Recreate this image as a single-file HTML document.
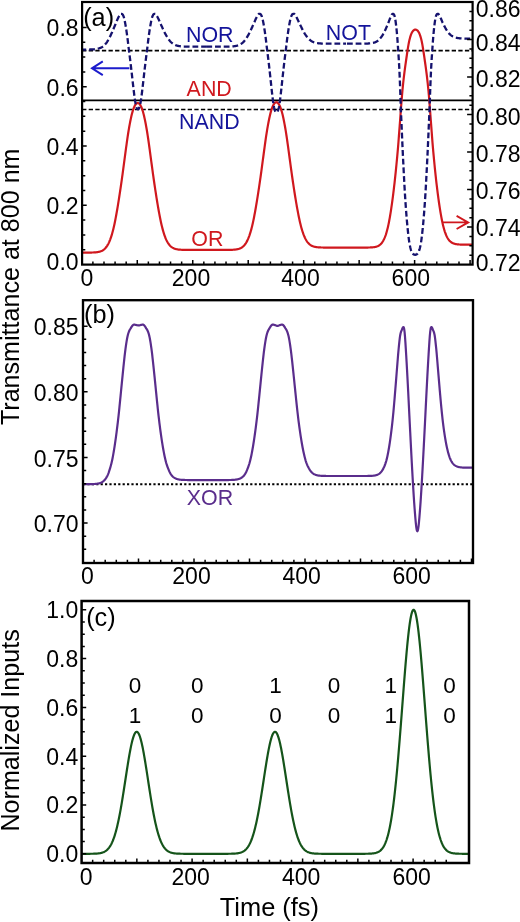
<!DOCTYPE html>
<html lang="en"><head><meta charset="utf-8"><title>Logic gate transmittance</title>
<style>
html,body{margin:0;padding:0;background:#fff;}
body{width:520px;height:922px;overflow:hidden;}
svg{display:block;font-family:"Liberation Sans",Arial,Helvetica,sans-serif;}
</style></head><body>
<svg width="520" height="922" viewBox="0 0 520 922">
<rect width="520" height="922" fill="#fff"/>
<path d="M82.1 50.6 H472.6" stroke="#000" stroke-width="1.7" stroke-dasharray="4.3 2.3" fill="none"/>
<path d="M82.1 109.5 H472.6" stroke="#000" stroke-width="1.7" stroke-dasharray="4.3 2.3" fill="none"/>
<path d="M82.1 100.4 H472.6" stroke="#000" stroke-width="1.8" fill="none"/>
<path d="M82.1 252.6 L82.5 252.6 L82.9 252.6 L83.3 252.6 L83.7 252.6 L84.1 252.6 L84.5 252.6 L84.9 252.6 L85.3 252.59 L85.7 252.59 L86.1 252.59 L86.5 252.59 L86.9 252.59 L87.3 252.59 L87.7 252.58 L88.1 252.58 L88.5 252.58 L88.9 252.58 L89.3 252.57 L89.7 252.57 L90.1 252.56 L90.5 252.56 L90.9 252.55 L91.3 252.54 L91.7 252.53 L92.1 252.52 L92.5 252.51 L92.9 252.5 L93.3 252.48 L93.7 252.46 L94.1 252.44 L94.5 252.42 L94.9 252.39 L95.3 252.36 L95.7 252.33 L96.1 252.29 L96.5 252.25 L96.9 252.2 L97.3 252.15 L97.7 252.09 L98.1 252.02 L98.5 251.94 L98.9 251.86 L99.3 251.76 L99.7 251.66 L100.1 251.54 L100.5 251.41 L100.9 251.26 L101.3 251.1 L101.7 250.92 L102.1 250.72 L102.5 250.5 L102.9 250.26 L103.3 250 L103.7 249.71 L104.1 249.39 L104.5 249.04 L104.9 248.66 L105.3 248.24 L105.7 247.79 L106.1 247.3 L106.5 246.77 L106.9 246.2 L107.3 245.59 L107.7 244.92 L108.1 244.21 L108.5 243.44 L108.9 242.62 L109.3 241.74 L109.7 240.79 L110.1 239.79 L110.5 238.71 L110.9 237.57 L111.3 236.36 L111.7 235.08 L112.1 233.72 L112.5 232.29 L112.9 230.78 L113.3 229.19 L113.7 227.52 L114.1 225.77 L114.5 223.93 L114.9 222.01 L115.3 220 L115.7 217.91 L116.1 215.75 L116.5 213.54 L116.9 211.27 L117.3 208.94 L117.7 206.56 L118.1 204.13 L118.5 201.64 L118.9 199.1 L119.3 196.52 L119.7 193.9 L120.1 191.24 L120.5 188.55 L120.9 185.83 L121.3 183.08 L121.7 180.29 L122.1 177.45 L122.5 174.56 L122.9 171.62 L123.3 168.65 L123.7 165.65 L124.1 162.65 L124.5 159.64 L124.9 156.63 L125.3 153.62 L125.7 150.64 L126.1 147.69 L126.5 144.78 L126.9 141.9 L127.3 139.07 L127.7 136.34 L128.1 133.72 L128.5 131.22 L128.9 128.84 L129.3 126.56 L129.7 124.38 L130.1 122.29 L130.5 120.28 L130.9 118.37 L131.3 116.56 L131.7 114.86 L132.1 113.29 L132.5 111.84 L132.9 110.52 L133.3 109.32 L133.7 108.22 L134.1 107.24 L134.5 106.36 L134.9 105.58 L135.3 104.9 L135.7 104.33 L136.1 103.86 L136.5 103.49 L136.9 103.22 L137.3 103.05 L137.7 102.99 L138.1 103.03 L138.5 103.17 L138.9 103.42 L139.3 103.76 L139.7 104.21 L140.1 104.76 L140.5 105.41 L140.9 106.17 L141.3 107.02 L141.7 107.98 L142.1 109.05 L142.5 110.22 L142.9 111.51 L143.3 112.92 L143.7 114.46 L144.1 116.12 L144.5 117.9 L144.9 119.78 L145.3 121.76 L145.7 123.82 L146.1 125.96 L146.5 128.2 L146.9 130.54 L147.3 132.99 L147.7 135.55 L148.1 138.24 L148.5 141.02 L148.9 143.87 L149.3 146.75 L149.7 149.66 L150.1 152.6 L150.5 155.57 L150.9 158.56 L151.3 161.53 L151.7 164.5 L152.1 167.47 L152.5 170.41 L152.9 173.32 L153.3 176.19 L153.7 179.01 L154.1 181.77 L154.5 184.48 L154.9 187.16 L155.3 189.81 L155.7 192.43 L156.1 195.01 L156.5 197.55 L156.9 200.04 L157.3 202.49 L157.7 204.88 L158.1 207.21 L158.5 209.5 L158.9 211.72 L159.3 213.88 L159.7 215.98 L160.1 218.03 L160.5 220 L160.9 221.9 L161.3 223.71 L161.7 225.44 L162.1 227.08 L162.5 228.64 L162.9 230.12 L163.3 231.53 L163.7 232.86 L164.1 234.12 L164.5 235.31 L164.9 236.43 L165.3 237.48 L165.7 238.46 L166.1 239.38 L166.5 240.24 L166.9 241.05 L167.3 241.79 L167.7 242.49 L168.1 243.14 L168.5 243.73 L168.9 244.29 L169.3 244.8 L169.7 245.27 L170.1 245.71 L170.5 246.1 L170.9 246.47 L171.3 246.81 L171.7 247.11 L172.1 247.4 L172.5 247.65 L172.9 247.88 L173.3 248.1 L173.7 248.29 L174.1 248.46 L174.5 248.62 L174.9 248.76 L175.3 248.89 L175.7 249 L176.1 249.11 L176.5 249.2 L176.9 249.28 L177.3 249.36 L177.7 249.42 L178.1 249.48 L178.5 249.54 L178.9 249.58 L179.3 249.62 L179.7 249.66 L180.1 249.69 L180.5 249.72 L180.9 249.75 L181.3 249.77 L181.7 249.79 L182.1 249.81 L182.5 249.82 L182.9 249.84 L183.3 249.85 L183.7 249.86 L184.1 249.87 L184.5 249.88 L184.9 249.88 L185.3 249.89 L185.7 249.89 L186.1 249.9 L186.5 249.9 L186.9 249.91 L187.3 249.91 L187.7 249.91 L188.1 249.91 L188.5 249.91 L188.9 249.92 L189.3 249.92 L189.7 249.92 L190.1 249.92 L190.5 249.92 L190.9 249.92 L191.3 249.92 L191.7 249.92 L192.1 249.92 L192.5 249.92 L192.9 249.92 L193.3 249.92 L193.7 249.92 L194.1 249.92 L194.5 249.92 L194.9 249.92 L195.3 249.92 L195.7 249.92 L196.1 249.93 L196.5 249.93 L196.9 249.93 L197.3 249.93 L197.7 249.93 L198.1 249.93 L198.5 249.93 L198.9 249.93 L199.3 249.93 L199.7 249.93 L200.1 249.93 L200.5 249.93 L200.9 249.93 L201.3 249.93 L201.7 249.93 L202.1 249.93 L202.5 249.93 L202.9 249.93 L203.3 249.93 L203.7 249.93 L204.1 249.93 L204.5 249.93 L204.9 249.93 L205.3 249.93 L205.7 249.93 L206.1 249.93 L206.5 249.93 L206.9 249.93 L207.3 249.93 L207.7 249.93 L208.1 249.93 L208.5 249.93 L208.9 249.93 L209.3 249.93 L209.7 249.93 L210.1 249.93 L210.5 249.93 L210.9 249.93 L211.3 249.93 L211.7 249.93 L212.1 249.93 L212.5 249.93 L212.9 249.93 L213.3 249.93 L213.7 249.93 L214.1 249.93 L214.5 249.93 L214.9 249.93 L215.3 249.93 L215.7 249.93 L216.1 249.93 L216.5 249.93 L216.9 249.93 L217.3 249.93 L217.7 249.93 L218.1 249.92 L218.5 249.92 L218.9 249.92 L219.3 249.92 L219.7 249.92 L220.1 249.92 L220.5 249.92 L220.9 249.92 L221.3 249.92 L221.7 249.92 L222.1 249.92 L222.5 249.92 L222.9 249.92 L223.3 249.92 L223.7 249.92 L224.1 249.92 L224.5 249.92 L224.9 249.92 L225.3 249.92 L225.7 249.91 L226.1 249.91 L226.5 249.91 L226.9 249.91 L227.3 249.9 L227.7 249.9 L228.1 249.9 L228.5 249.89 L228.9 249.89 L229.3 249.88 L229.7 249.87 L230.1 249.86 L230.5 249.85 L230.9 249.84 L231.3 249.83 L231.7 249.82 L232.1 249.8 L232.5 249.78 L232.9 249.76 L233.3 249.74 L233.7 249.71 L234.1 249.68 L234.5 249.64 L234.9 249.6 L235.3 249.56 L235.7 249.51 L236.1 249.45 L236.5 249.39 L236.9 249.32 L237.3 249.24 L237.7 249.15 L238.1 249.06 L238.5 248.95 L238.9 248.83 L239.3 248.69 L239.7 248.54 L240.1 248.37 L240.5 248.19 L240.9 247.99 L241.3 247.77 L241.7 247.52 L242.1 247.25 L242.5 246.96 L242.9 246.63 L243.3 246.28 L243.7 245.9 L244.1 245.48 L244.5 245.03 L244.9 244.54 L245.3 244 L245.7 243.43 L246.1 242.8 L246.5 242.13 L246.9 241.4 L247.3 240.63 L247.7 239.79 L248.1 238.9 L248.5 237.94 L248.9 236.92 L249.3 235.84 L249.7 234.68 L250.1 233.45 L250.5 232.16 L250.9 230.78 L251.3 229.34 L251.7 227.81 L252.1 226.21 L252.5 224.52 L252.9 222.74 L253.3 220.88 L253.7 218.93 L254.1 216.92 L254.5 214.83 L254.9 212.7 L255.3 210.5 L255.7 208.24 L256.1 205.93 L256.5 203.55 L256.9 201.13 L257.3 198.65 L257.7 196.12 L258.1 193.56 L258.5 190.95 L258.9 188.3 L259.3 185.63 L259.7 182.92 L260.1 180.17 L260.5 177.37 L260.9 174.51 L261.3 171.61 L261.7 168.66 L262.1 165.69 L262.5 162.71 L262.9 159.72 L263.3 156.73 L263.7 153.73 L264.1 150.76 L264.5 147.81 L264.9 144.91 L265.3 142.02 L265.7 139.19 L266.1 136.44 L266.5 133.81 L266.9 131.3 L267.3 128.9 L267.7 126.6 L268.1 124.39 L268.5 122.28 L268.9 120.24 L269.3 118.29 L269.7 116.45 L270.1 114.72 L270.5 113.12 L270.9 111.64 L271.3 110.28 L271.7 109.04 L272.1 107.91 L272.5 106.89 L272.9 105.97 L273.3 105.15 L273.7 104.43 L274.1 103.81 L274.5 103.29 L274.9 102.87 L275.3 102.56 L275.7 102.34 L276.1 102.23 L276.5 102.22 L276.9 102.31 L277.3 102.5 L277.7 102.8 L278.1 103.2 L278.5 103.69 L278.9 104.29 L279.3 104.99 L279.7 105.79 L280.1 106.68 L280.5 107.69 L280.9 108.79 L281.3 110 L281.7 111.33 L282.1 112.78 L282.5 114.35 L282.9 116.05 L283.3 117.86 L283.7 119.78 L284.1 121.78 L284.5 123.87 L284.9 126.05 L285.3 128.31 L285.7 130.67 L286.1 133.14 L286.5 135.73 L286.9 138.43 L287.3 141.22 L287.7 144.08 L288.1 146.95 L288.5 149.86 L288.9 152.81 L289.3 155.77 L289.7 158.74 L290.1 161.7 L290.5 164.65 L290.9 167.59 L291.3 170.51 L291.7 173.39 L292.1 176.23 L292.5 179.01 L292.9 181.74 L293.3 184.42 L293.7 187.05 L294.1 189.66 L294.5 192.23 L294.9 194.76 L295.3 197.25 L295.7 199.69 L296.1 202.08 L296.5 204.41 L296.9 206.69 L297.3 208.91 L297.7 211.07 L298.1 213.16 L298.5 215.2 L298.9 217.17 L299.3 219.08 L299.7 220.92 L300.1 222.67 L300.5 224.34 L300.9 225.93 L301.3 227.43 L301.7 228.86 L302.1 230.2 L302.5 231.48 L302.9 232.68 L303.3 233.82 L303.7 234.89 L304.1 235.89 L304.5 236.83 L304.9 237.7 L305.3 238.52 L305.7 239.28 L306.1 239.99 L306.5 240.65 L306.9 241.26 L307.3 241.83 L307.7 242.35 L308.1 242.83 L308.5 243.27 L308.9 243.68 L309.3 244.05 L309.7 244.39 L310.1 244.71 L310.5 244.99 L310.9 245.25 L311.3 245.49 L311.7 245.7 L312.1 245.9 L312.5 246.08 L312.9 246.24 L313.3 246.38 L313.7 246.51 L314.1 246.63 L314.5 246.73 L314.9 246.83 L315.3 246.91 L315.7 246.99 L316.1 247.06 L316.5 247.12 L316.9 247.17 L317.3 247.22 L317.7 247.26 L318.1 247.3 L318.5 247.34 L318.9 247.37 L319.3 247.39 L319.7 247.42 L320.1 247.44 L320.5 247.45 L320.9 247.47 L321.3 247.48 L321.7 247.5 L322.1 247.51 L322.5 247.52 L322.9 247.52 L323.3 247.53 L323.7 247.54 L324.1 247.54 L324.5 247.55 L324.9 247.55 L325.3 247.56 L325.7 247.56 L326.1 247.56 L326.5 247.56 L326.9 247.57 L327.3 247.57 L327.7 247.57 L328.1 247.57 L328.5 247.57 L328.9 247.57 L329.3 247.57 L329.7 247.57 L330.1 247.57 L330.5 247.57 L330.9 247.57 L331.3 247.57 L331.7 247.58 L332.1 247.58 L332.5 247.58 L332.9 247.58 L333.3 247.58 L333.7 247.58 L334.1 247.58 L334.5 247.58 L334.9 247.58 L335.3 247.58 L335.7 247.58 L336.1 247.58 L336.5 247.58 L336.9 247.58 L337.3 247.58 L337.7 247.58 L338.1 247.58 L338.5 247.58 L338.9 247.58 L339.3 247.58 L339.7 247.58 L340.1 247.58 L340.5 247.58 L340.9 247.58 L341.3 247.58 L341.7 247.58 L342.1 247.58 L342.5 247.58 L342.9 247.58 L343.3 247.58 L343.7 247.58 L344.1 247.58 L344.5 247.58 L344.9 247.58 L345.3 247.58 L345.7 247.58 L346.1 247.58 L346.5 247.58 L346.9 247.58 L347.3 247.58 L347.7 247.58 L348.1 247.58 L348.5 247.58 L348.9 247.58 L349.3 247.58 L349.7 247.58 L350.1 247.58 L350.5 247.58 L350.9 247.58 L351.3 247.58 L351.7 247.58 L352.1 247.58 L352.5 247.58 L352.9 247.58 L353.3 247.58 L353.7 247.58 L354.1 247.58 L354.5 247.58 L354.9 247.58 L355.3 247.58 L355.7 247.58 L356.1 247.58 L356.5 247.58 L356.9 247.58 L357.3 247.58 L357.7 247.58 L358.1 247.58 L358.5 247.58 L358.9 247.58 L359.3 247.58 L359.7 247.58 L360.1 247.58 L360.5 247.57 L360.9 247.57 L361.3 247.57 L361.7 247.57 L362.1 247.57 L362.5 247.57 L362.9 247.57 L363.3 247.57 L363.7 247.57 L364.1 247.57 L364.5 247.57 L364.9 247.56 L365.3 247.56 L365.7 247.56 L366.1 247.55 L366.5 247.55 L366.9 247.55 L367.3 247.54 L367.7 247.53 L368.1 247.53 L368.5 247.52 L368.9 247.51 L369.3 247.5 L369.7 247.48 L370.1 247.47 L370.5 247.45 L370.9 247.43 L371.3 247.41 L371.7 247.38 L372.1 247.35 L372.5 247.32 L372.9 247.28 L373.3 247.24 L373.7 247.19 L374.1 247.13 L374.5 247.07 L374.9 246.99 L375.3 246.91 L375.7 246.82 L376.1 246.71 L376.5 246.59 L376.9 246.46 L377.3 246.31 L377.7 246.14 L378.1 245.96 L378.5 245.75 L378.9 245.52 L379.3 245.26 L379.7 244.97 L380.1 244.65 L380.5 244.3 L380.9 243.91 L381.3 243.48 L381.7 243 L382.1 242.48 L382.5 241.91 L382.9 241.28 L383.3 240.59 L383.7 239.85 L384.1 239.03 L384.5 238.14 L384.9 237.18 L385.3 236.14 L385.7 235.01 L386.1 233.79 L386.5 232.48 L386.9 231.07 L387.3 229.56 L387.7 227.95 L388.1 226.22 L388.5 224.38 L388.9 222.41 L389.3 220.31 L389.7 218.09 L390.1 215.76 L390.5 213.33 L390.9 210.8 L391.3 208.15 L391.7 205.41 L392.1 202.55 L392.5 199.59 L392.9 196.52 L393.3 193.35 L393.7 190.09 L394.1 186.73 L394.5 183.28 L394.9 179.7 L395.3 175.99 L395.7 172.12 L396.1 168.12 L396.5 164 L396.9 159.78 L397.3 155.53 L397.7 151.17 L398.1 146.55 L398.5 141.51 L398.9 136.2 L399.3 130.87 L399.7 125.61 L400.1 120.33 L400.5 114.95 L400.9 109.46 L401.3 104.14 L401.7 99.13 L402.1 94.38 L402.5 89.97 L402.9 85.85 L403.3 82.01 L403.7 78.42 L404.1 75.04 L404.5 71.86 L404.9 68.83 L405.3 65.91 L405.7 63.09 L406.1 60.28 L406.5 57.5 L406.9 54.75 L407.3 52.03 L407.7 49.41 L408.1 46.94 L408.5 44.61 L408.9 42.5 L409.3 40.62 L409.7 38.94 L410.1 37.44 L410.5 36.11 L410.9 34.93 L411.3 33.91 L411.7 33.03 L412.1 32.28 L412.5 31.63 L412.9 31.09 L413.3 30.65 L413.7 30.29 L414.1 30.01 L414.5 29.8 L414.9 29.67 L415.3 29.61 L415.7 29.63 L416.1 29.71 L416.5 29.87 L416.9 30.11 L417.3 30.41 L417.7 30.8 L418.1 31.28 L418.5 31.86 L418.9 32.54 L419.3 33.34 L419.7 34.26 L420.1 35.34 L420.5 36.58 L420.9 37.96 L421.3 39.52 L421.7 41.27 L422.1 43.22 L422.5 45.41 L422.9 47.79 L423.3 50.3 L423.7 52.97 L424.1 55.69 L424.5 58.44 L424.9 61.22 L425.3 64.02 L425.7 66.85 L426.1 69.8 L426.5 72.86 L426.9 76.09 L427.3 79.51 L427.7 83.15 L428.1 87.05 L428.5 91.22 L428.9 95.7 L429.3 100.5 L429.7 105.54 L430.1 110.9 L430.5 116.34 L430.9 121.62 L431.3 126.84 L431.7 132.04 L432.1 137.33 L432.5 142.55 L432.9 147.44 L433.3 151.94 L433.7 156.2 L434.1 160.37 L434.5 164.51 L434.9 168.54 L435.3 172.45 L435.7 176.23 L436.1 179.84 L436.5 183.32 L436.9 186.68 L437.3 189.94 L437.7 193.1 L438.1 196.17 L438.5 199.13 L438.9 201.99 L439.3 204.74 L439.7 207.38 L440.1 209.92 L440.5 212.34 L440.9 214.66 L441.3 216.88 L441.7 219 L442.1 221 L442.5 222.88 L442.9 224.64 L443.3 226.28 L443.7 227.82 L444.1 229.25 L444.5 230.58 L444.9 231.82 L445.3 232.96 L445.7 234.03 L446.1 235.01 L446.5 235.91 L446.9 236.75 L447.3 237.51 L447.7 238.21 L448.1 238.85 L448.5 239.44 L448.9 239.97 L449.3 240.45 L449.7 240.89 L450.1 241.29 L450.5 241.65 L450.9 241.98 L451.3 242.27 L451.7 242.54 L452.1 242.78 L452.5 242.99 L452.9 243.18 L453.3 243.35 L453.7 243.51 L454.1 243.64 L454.5 243.77 L454.9 243.87 L455.3 243.97 L455.7 244.05 L456.1 244.13 L456.5 244.2 L456.9 244.25 L457.3 244.31 L457.7 244.35 L458.1 244.39 L458.5 244.43 L458.9 244.46 L459.3 244.48 L459.7 244.51 L460.1 244.53 L460.5 244.54 L460.9 244.56 L461.3 244.57 L461.7 244.58 L462.1 244.59 L462.5 244.6 L462.9 244.61 L463.3 244.62 L463.7 244.62 L464.1 244.63 L464.5 244.63 L464.9 244.63 L465.3 244.64 L465.7 244.64 L466.1 244.64 L466.5 244.64 L466.9 244.65 L467.3 244.65 L467.7 244.65 L468.1 244.65 L468.5 244.65 L468.9 244.65 L469.3 244.65 L469.7 244.65 L470.1 244.65 L470.5 244.65 L470.9 244.65 L471.3 244.65 L471.7 244.65 L472.1 244.65 L472.5 244.65 L472.6 244.65" stroke="#d0181e" stroke-width="2.2" fill="none" stroke-linejoin="round"/>
<path d="M82.1 49.6 L82.35 49.6 L82.6 49.59 L82.85 49.59 L83.1 49.59 L83.35 49.59 L83.6 49.59 L83.85 49.59 L84.1 49.59 L84.35 49.59 L84.6 49.59 L84.85 49.59 L85.1 49.59 L85.35 49.58 L85.6 49.58 L85.85 49.58 L86.1 49.58 L86.35 49.58 L86.6 49.58 L86.85 49.57 L87.1 49.57 L87.35 49.57 L87.6 49.56 L87.85 49.56 L88.1 49.56 L88.35 49.55 L88.6 49.55 L88.85 49.55 L89.1 49.54 L89.35 49.53 L89.6 49.53 L89.85 49.52 L90.1 49.52 L90.35 49.51 L90.6 49.5 L90.85 49.49 L91.1 49.48 L91.35 49.47 L91.6 49.46 L91.85 49.45 L92.1 49.44 L92.35 49.42 L92.6 49.41 L92.85 49.39 L93.1 49.38 L93.35 49.36 L93.6 49.34 L93.85 49.32 L94.1 49.3 L94.35 49.27 L94.6 49.25 L94.85 49.22 L95.1 49.19 L95.35 49.16 L95.6 49.12 L95.85 49.09 L96.1 49.05 L96.35 49.01 L96.6 48.96 L96.85 48.92 L97.1 48.87 L97.35 48.82 L97.6 48.76 L97.85 48.7 L98.1 48.64 L98.35 48.57 L98.6 48.5 L98.85 48.43 L99.1 48.35 L99.35 48.27 L99.6 48.18 L99.85 48.09 L100.1 48 L100.35 47.9 L100.6 47.8 L100.85 47.69 L101.1 47.59 L101.35 47.47 L101.6 47.35 L101.85 47.22 L102.1 47.09 L102.35 46.95 L102.6 46.79 L102.85 46.62 L103.1 46.44 L103.35 46.24 L103.6 46.03 L103.85 45.8 L104.1 45.55 L104.35 45.29 L104.6 45.02 L104.85 44.74 L105.1 44.44 L105.35 44.15 L105.6 43.85 L105.85 43.55 L106.1 43.24 L106.35 42.92 L106.6 42.59 L106.85 42.24 L107.1 41.87 L107.35 41.48 L107.6 41.07 L107.85 40.64 L108.1 40.19 L108.35 39.74 L108.6 39.27 L108.85 38.8 L109.1 38.32 L109.35 37.85 L109.6 37.36 L109.85 36.88 L110.1 36.39 L110.35 35.89 L110.6 35.39 L110.85 34.88 L111.1 34.36 L111.35 33.83 L111.6 33.29 L111.85 32.74 L112.1 32.18 L112.35 31.61 L112.6 31.03 L112.85 30.44 L113.1 29.84 L113.35 29.24 L113.6 28.63 L113.85 28.03 L114.1 27.43 L114.35 26.84 L114.6 26.26 L114.85 25.68 L115.1 25.11 L115.35 24.54 L115.6 23.98 L115.85 23.41 L116.1 22.83 L116.35 22.22 L116.6 21.58 L116.85 20.93 L117.1 20.29 L117.35 19.68 L117.6 19.1 L117.85 18.55 L118.1 18.03 L118.35 17.53 L118.6 17.04 L118.85 16.56 L119.1 16.11 L119.35 15.7 L119.6 15.31 L119.85 14.9 L120.1 14.5 L120.35 14.16 L120.6 13.91 L120.85 13.8 L121.1 13.81 L121.35 13.84 L121.6 13.9 L121.85 13.97 L122.1 14.06 L122.35 14.19 L122.6 14.46 L122.85 14.85 L123.1 15.33 L123.35 15.87 L123.6 16.47 L123.85 17.24 L124.1 18.15 L124.35 19.16 L124.6 20.22 L124.85 21.42 L125.1 22.72 L125.35 24.09 L125.6 25.5 L125.85 26.98 L126.1 28.54 L126.35 30.15 L126.6 31.82 L126.85 33.56 L127.1 35.36 L127.35 37.22 L127.6 39.16 L127.85 41.19 L128.1 43.27 L128.35 45.38 L128.6 47.54 L128.85 49.69 L129.1 51.73 L129.35 53.62 L129.6 55.47 L129.85 57.38 L130.1 59.38 L130.35 61.43 L130.6 63.52 L130.85 65.63 L131.1 67.75 L131.35 69.88 L131.6 72.04 L131.85 74.23 L132.1 76.46 L132.35 78.69 L132.6 80.92 L132.85 83.13 L133.1 85.32 L133.35 87.49 L133.6 89.62 L133.85 91.68 L134.1 93.65 L134.35 95.54 L134.6 97.38 L134.85 99.17 L135.1 100.84 L135.35 102.38 L135.6 103.75 L135.85 104.96 L136.1 106 L136.35 106.88 L136.6 107.6 L136.85 108.18 L137.1 108.63 L137.35 108.97 L137.6 109.19 L137.85 109.3 L138.1 109.29 L138.35 109.17 L138.6 108.94 L138.85 108.59 L139.1 108.12 L139.35 107.53 L139.6 106.79 L139.85 105.9 L140.1 104.85 L140.35 103.62 L140.6 102.23 L140.85 100.68 L141.1 99 L141.35 97.21 L141.6 95.37 L141.85 93.48 L142.1 91.5 L142.35 89.44 L142.6 87.32 L142.85 85.15 L143.1 82.97 L143.35 80.76 L143.6 78.54 L143.85 76.31 L144.1 74.1 L144.35 71.92 L144.6 69.77 L144.85 67.65 L145.1 65.54 L145.35 63.44 L145.6 61.37 L145.85 59.33 L146.1 57.34 L146.35 55.44 L146.6 53.61 L146.85 51.72 L147.1 49.69 L147.35 47.56 L147.6 45.41 L147.85 43.32 L148.1 41.26 L148.35 39.24 L148.6 37.31 L148.85 35.46 L149.1 33.67 L149.35 31.95 L149.6 30.29 L149.85 28.69 L150.1 27.15 L150.35 25.67 L150.6 24.27 L150.85 22.91 L151.1 21.61 L151.35 20.41 L151.6 19.34 L151.85 18.34 L152.1 17.42 L152.35 16.62 L152.6 16 L152.85 15.46 L153.1 14.97 L153.35 14.56 L153.6 14.26 L153.85 14.09 L154.1 14 L154.35 13.92 L154.6 13.86 L154.85 13.82 L155.1 13.8 L155.35 13.84 L155.6 14.02 L155.85 14.32 L156.1 14.69 L156.35 15.09 L156.6 15.48 L156.85 15.85 L157.1 16.26 L157.35 16.71 L157.6 17.18 L157.85 17.66 L158.1 18.15 L158.35 18.65 L158.6 19.19 L158.85 19.74 L159.1 20.33 L159.35 20.94 L159.6 21.57 L159.85 22.18 L160.1 22.76 L160.35 23.31 L160.6 23.85 L160.85 24.38 L161.1 24.91 L161.35 25.45 L161.6 25.98 L161.85 26.52 L162.1 27.07 L162.35 27.61 L162.6 28.16 L162.85 28.72 L163.1 29.27 L163.35 29.82 L163.6 30.37 L163.85 30.9 L164.1 31.43 L164.35 31.94 L164.6 32.44 L164.85 32.93 L165.1 33.41 L165.35 33.88 L165.6 34.34 L165.85 34.79 L166.1 35.23 L166.35 35.66 L166.6 36.08 L166.85 36.49 L167.1 36.89 L167.35 37.29 L167.6 37.68 L167.85 38.07 L168.1 38.45 L168.35 38.82 L168.6 39.18 L168.85 39.54 L169.1 39.89 L169.35 40.23 L169.6 40.56 L169.85 40.87 L170.1 41.17 L170.35 41.45 L170.6 41.73 L170.85 41.98 L171.1 42.22 L171.35 42.45 L171.6 42.67 L171.85 42.87 L172.1 43.07 L172.35 43.25 L172.6 43.43 L172.85 43.6 L173.1 43.77 L173.35 43.93 L173.6 44.08 L173.85 44.23 L174.1 44.37 L174.35 44.51 L174.6 44.64 L174.85 44.76 L175.1 44.88 L175.35 45 L175.6 45.1 L175.85 45.21 L176.1 45.3 L176.35 45.39 L176.6 45.48 L176.85 45.56 L177.1 45.63 L177.35 45.7 L177.6 45.77 L177.85 45.83 L178.1 45.89 L178.35 45.94 L178.6 45.99 L178.85 46.04 L179.1 46.08 L179.35 46.12 L179.6 46.16 L179.85 46.2 L180.1 46.23 L180.35 46.26 L180.6 46.29 L180.85 46.31 L181.1 46.34 L181.35 46.36 L181.6 46.38 L181.85 46.4 L182.1 46.42 L182.35 46.44 L182.6 46.45 L182.85 46.47 L183.1 46.48 L183.35 46.49 L183.6 46.51 L183.85 46.52 L184.1 46.53 L184.35 46.54 L184.6 46.54 L184.85 46.55 L185.1 46.56 L185.35 46.57 L185.6 46.57 L185.85 46.58 L186.1 46.58 L186.35 46.59 L186.6 46.59 L186.85 46.6 L187.1 46.6 L187.35 46.6 L187.6 46.61 L187.85 46.61 L188.1 46.61 L188.35 46.62 L188.6 46.62 L188.85 46.62 L189.1 46.62 L189.35 46.62 L189.6 46.63 L189.85 46.63 L190.1 46.63 L190.35 46.63 L190.6 46.63 L190.85 46.63 L191.1 46.63 L191.35 46.63 L191.6 46.64 L191.85 46.64 L192.1 46.64 L192.35 46.64 L192.6 46.64 L192.85 46.64 L193.1 46.64 L193.35 46.64 L193.6 46.64 L193.85 46.64 L194.1 46.64 L194.35 46.64 L194.6 46.64 L194.85 46.64 L195.1 46.64 L195.35 46.64 L195.6 46.64 L195.85 46.64 L196.1 46.64 L196.35 46.64 L196.6 46.64 L196.85 46.64 L197.1 46.64 L197.35 46.64 L197.6 46.64 L197.85 46.64 L198.1 46.64 L198.35 46.64 L198.6 46.64 L198.85 46.64 L199.1 46.64 L199.35 46.64 L199.6 46.64 L199.85 46.64 L200.1 46.64 L200.35 46.64 L200.6 46.64 L200.85 46.64 L201.1 46.64 L201.35 46.64 L201.6 46.64 L201.85 46.64 L202.1 46.64 L202.35 46.64 L202.6 46.64 L202.85 46.64 L203.1 46.64 L203.35 46.64 L203.6 46.64 L203.85 46.64 L204.1 46.64 L204.35 46.64 L204.6 46.64 L204.85 46.64 L205.1 46.64 L205.35 46.64 L205.6 46.64 L205.85 46.64 L206.1 46.64 L206.35 46.64 L206.6 46.64 L206.85 46.64 L207 46.64" stroke="#15126e" stroke-width="2.3" fill="none" stroke-dasharray="5.8 2.9" stroke-dashoffset="1.71" stroke-linejoin="round"/>
<path d="M207 46.64 L207.25 46.64 L207.5 46.64 L207.75 46.64 L208 46.64 L208.25 46.64 L208.5 46.64 L208.75 46.64 L209 46.64 L209.25 46.64 L209.5 46.64 L209.75 46.64 L210 46.64 L210.25 46.64 L210.5 46.64 L210.75 46.64 L211 46.64 L211.25 46.64 L211.5 46.64 L211.75 46.64 L212 46.64 L212.25 46.64 L212.5 46.64 L212.75 46.64 L213 46.64 L213.25 46.64 L213.5 46.64 L213.75 46.64 L214 46.64 L214.25 46.64 L214.5 46.64 L214.75 46.64 L215 46.64 L215.25 46.64 L215.5 46.64 L215.75 46.64 L216 46.64 L216.25 46.64 L216.5 46.64 L216.75 46.64 L217 46.64 L217.25 46.64 L217.5 46.64 L217.75 46.64 L218 46.64 L218.25 46.64 L218.5 46.64 L218.75 46.64 L219 46.64 L219.25 46.64 L219.5 46.64 L219.75 46.64 L220 46.64 L220.25 46.64 L220.5 46.64 L220.75 46.64 L221 46.64 L221.25 46.64 L221.5 46.64 L221.75 46.64 L222 46.64 L222.25 46.64 L222.5 46.64 L222.75 46.64 L223 46.63 L223.25 46.63 L223.5 46.63 L223.75 46.63 L224 46.63 L224.25 46.63 L224.5 46.63 L224.75 46.63 L225 46.62 L225.25 46.62 L225.5 46.62 L225.75 46.62 L226 46.62 L226.25 46.61 L226.5 46.61 L226.75 46.61 L227 46.6 L227.25 46.6 L227.5 46.6 L227.75 46.59 L228 46.59 L228.25 46.58 L228.5 46.58 L228.75 46.57 L229 46.57 L229.25 46.56 L229.5 46.55 L229.75 46.54 L230 46.53 L230.25 46.52 L230.5 46.51 L230.75 46.5 L231 46.49 L231.25 46.48 L231.5 46.46 L231.75 46.45 L232 46.43 L232.25 46.42 L232.5 46.4 L232.75 46.38 L233 46.36 L233.25 46.33 L233.5 46.31 L233.75 46.28 L234 46.25 L234.25 46.22 L234.5 46.19 L234.75 46.15 L235 46.11 L235.25 46.07 L235.5 46.03 L235.75 45.98 L236 45.93 L236.25 45.87 L236.5 45.81 L236.75 45.75 L237 45.69 L237.25 45.61 L237.5 45.54 L237.75 45.46 L238 45.37 L238.25 45.28 L238.5 45.18 L238.75 45.08 L239 44.97 L239.25 44.85 L239.5 44.73 L239.75 44.61 L240 44.47 L240.25 44.33 L240.5 44.19 L240.75 44.04 L241 43.89 L241.25 43.73 L241.5 43.56 L241.75 43.39 L242 43.21 L242.25 43.02 L242.5 42.82 L242.75 42.61 L243 42.39 L243.25 42.16 L243.5 41.92 L243.75 41.66 L244 41.38 L244.25 41.09 L244.5 40.79 L244.75 40.47 L245 40.14 L245.25 39.8 L245.5 39.45 L245.75 39.09 L246 38.72 L246.25 38.35 L246.5 37.97 L246.75 37.58 L247 37.18 L247.25 36.78 L247.5 36.38 L247.75 35.96 L248 35.54 L248.25 35.11 L248.5 34.67 L248.75 34.21 L249 33.75 L249.25 33.28 L249.5 32.79 L249.75 32.3 L250 31.79 L250.25 31.28 L250.5 30.75 L250.75 30.21 L251 29.66 L251.25 29.11 L251.5 28.55 L251.75 28 L252 27.45 L252.25 26.9 L252.5 26.36 L252.75 25.82 L253 25.28 L253.25 24.74 L253.5 24.21 L253.75 23.68 L254 23.14 L254.25 22.58 L254.5 21.98 L254.75 21.36 L255 20.74 L255.25 20.13 L255.5 19.56 L255.75 19.01 L256 18.48 L256.25 17.98 L256.5 17.5 L256.75 17.02 L257 16.55 L257.25 16.12 L257.5 15.72 L257.75 15.34 L258 14.94 L258.25 14.55 L258.5 14.2 L258.75 13.94 L259 13.81 L259.25 13.81 L259.5 13.83 L259.75 13.88 L260 13.95 L260.25 14.04 L260.5 14.14 L260.75 14.37 L261 14.72 L261.25 15.17 L261.5 15.69 L261.75 16.25 L262 16.95 L262.25 17.82 L262.5 18.79 L262.75 19.82 L263 20.96 L263.25 22.22 L263.5 23.57 L263.75 24.95 L264 26.41 L264.25 27.93 L264.5 29.52 L264.75 31.17 L265 32.89 L265.25 34.67 L265.5 36.51 L265.75 38.43 L266 40.44 L266.25 42.52 L266.5 44.63 L266.75 46.8 L267 48.98 L267.25 51.09 L267.5 53.05 L267.75 54.94 L268 56.85 L268.25 58.86 L268.5 60.95 L268.75 63.08 L269 65.23 L269.25 67.41 L269.5 69.61 L269.75 71.84 L270 74.11 L270.25 76.42 L270.5 78.76 L270.75 81.1 L271 83.44 L271.25 85.76 L271.5 88.08 L271.75 90.36 L272 92.58 L272.25 94.72 L272.5 96.81 L272.75 98.88 L273 100.86 L273.25 102.7 L273.5 104.38 L273.75 105.86 L274 107.14 L274.25 108.24 L274.5 109.18 L274.75 109.99 L275 110.67 L275.25 111.24 L275.5 111.7 L275.75 112.05 L276 112.29 L276.25 112.43 L276.5 112.46 L276.75 112.4 L277 112.23 L277.25 111.95 L277.5 111.57 L277.75 111.08 L278 110.48 L278.25 109.76 L278.5 108.91 L278.75 107.92 L279 106.78 L279.25 105.44 L279.5 103.9 L279.75 102.18 L280 100.29 L280.25 98.28 L280.5 96.21 L280.75 94.12 L281 91.96 L281.25 89.73 L281.5 87.44 L281.75 85.13 L282 82.81 L282.25 80.48 L282.5 78.14 L282.75 75.82 L283 73.53 L283.25 71.28 L283.5 69.06 L283.75 66.88 L284 64.72 L284.25 62.58 L284.5 60.48 L284.75 58.42 L285 56.43 L285.25 54.55 L285.5 52.67 L285.75 50.69 L286 48.58 L286.25 46.41 L286.5 44.27 L286.75 42.18 L287 40.13 L287.25 38.14 L287.5 36.25 L287.75 34.43 L288 32.68 L288.25 30.99 L288.5 29.36 L288.75 27.8 L289 26.29 L289.25 24.86 L289.5 23.49 L289.75 22.17 L290 20.92 L290.25 19.8 L290.5 18.79 L290.75 17.83 L291 16.98 L291.25 16.28 L291.5 15.72 L291.75 15.21 L292 14.76 L292.25 14.4 L292.5 14.16 L292.75 14.05 L293 13.96 L293.25 13.9 L293.5 13.84 L293.75 13.81 L294 13.8 L294.25 13.88 L294.5 14.11 L294.75 14.43 L295 14.8 L295.25 15.19 L295.5 15.56 L295.75 15.93 L296 16.33 L296.25 16.77 L296.5 17.23 L296.75 17.69 L297 18.16 L297.25 18.65 L297.5 19.16 L297.75 19.69 L298 20.25 L298.25 20.83 L298.5 21.42 L298.75 22.01 L299 22.57 L299.25 23.1 L299.5 23.61 L299.75 24.11 L300 24.61 L300.25 25.11 L300.5 25.61 L300.75 26.11 L301 26.61 L301.25 27.11 L301.5 27.61 L301.75 28.12 L302 28.62 L302.25 29.12 L302.5 29.62 L302.75 30.11 L303 30.59 L303.25 31.06 L303.5 31.52 L303.75 31.97 L304 32.41 L304.25 32.83 L304.5 33.25 L304.75 33.65 L305 34.05 L305.25 34.43 L305.5 34.8 L305.75 35.16 L306 35.52 L306.25 35.86 L306.5 36.19 L306.75 36.51 L307 36.83 L307.25 37.13 L307.5 37.43 L307.75 37.73 L308 38.01 L308.25 38.29 L308.5 38.55 L308.75 38.81 L309 39.07 L309.25 39.31 L309.5 39.55 L309.75 39.78 L310 40 L310.25 40.21 L310.5 40.41 L310.75 40.61 L311 40.79 L311.25 40.96 L311.5 41.13 L311.75 41.28 L312 41.43 L312.25 41.57 L312.5 41.7 L312.75 41.82 L313 41.94 L313.25 42.05 L313.5 42.15 L313.75 42.25 L314 42.34 L314.25 42.42 L314.5 42.5 L314.75 42.58 L315 42.65 L315.25 42.72 L315.5 42.78 L315.75 42.84 L316 42.9 L316.25 42.95 L316.5 43 L316.75 43.04 L317 43.09 L317.25 43.13 L317.5 43.16 L317.75 43.2 L318 43.23 L318.25 43.27 L318.5 43.29 L318.75 43.32 L319 43.35 L319.25 43.37 L319.5 43.39 L319.75 43.41 L320 43.43 L320.25 43.45 L320.5 43.47 L320.75 43.48 L321 43.5 L321.25 43.51 L321.5 43.53 L321.75 43.54 L322 43.55 L322.25 43.56 L322.5 43.57 L322.75 43.58 L323 43.59 L323.25 43.59 L323.5 43.6 L323.75 43.61 L324 43.61 L324.25 43.62 L324.5 43.62 L324.75 43.63 L325 43.63 L325.25 43.64 L325.5 43.64 L325.75 43.64 L326 43.65 L326.25 43.65 L326.5 43.65 L326.75 43.65 L327 43.66 L327.25 43.66 L327.5 43.66 L327.75 43.66 L328 43.66 L328.25 43.67 L328.5 43.67 L328.75 43.67 L329 43.67 L329.25 43.67 L329.5 43.67 L329.75 43.67 L330 43.67 L330.25 43.67 L330.5 43.67 L330.75 43.67 L331 43.68 L331.25 43.68 L331.5 43.68 L331.75 43.68 L332 43.68 L332.25 43.68 L332.5 43.68 L332.75 43.68 L333 43.68 L333.25 43.68 L333.5 43.68 L333.75 43.68 L334 43.68 L334.25 43.68 L334.5 43.68 L334.75 43.68 L335 43.68 L335.25 43.68 L335.5 43.68 L335.75 43.68 L336 43.68 L336.25 43.68 L336.5 43.68 L336.75 43.68 L337 43.68 L337.25 43.68 L337.5 43.68 L337.75 43.68 L338 43.68 L338.25 43.68 L338.5 43.68 L338.75 43.68 L339 43.68 L339.25 43.68 L339.5 43.68 L339.75 43.68 L340 43.68 L340.25 43.68 L340.5 43.68 L340.75 43.68 L341 43.68 L341.25 43.68 L341.5 43.68 L341.75 43.68 L342 43.68 L342.25 43.68 L342.5 43.68 L342.75 43.68 L343 43.68 L343.25 43.68 L343.5 43.68 L343.75 43.68 L344 43.68 L344.25 43.68 L344.5 43.68 L344.75 43.68 L345 43.68 L345.25 43.68 L345.5 43.68 L345.75 43.68 L346 43.68" stroke="#15126e" stroke-width="2.3" fill="none" stroke-dasharray="5.8 2.9" stroke-dashoffset="0.67" stroke-linejoin="round"/>
<path d="M346 43.68 L346.25 43.68 L346.5 43.68 L346.75 43.68 L347 43.68 L347.25 43.68 L347.5 43.68 L347.75 43.68 L348 43.68 L348.25 43.68 L348.5 43.68 L348.75 43.68 L349 43.68 L349.25 43.68 L349.5 43.68 L349.75 43.68 L350 43.68 L350.25 43.68 L350.5 43.68 L350.75 43.68 L351 43.68 L351.25 43.68 L351.5 43.68 L351.75 43.68 L352 43.68 L352.25 43.68 L352.5 43.68 L352.75 43.68 L353 43.68 L353.25 43.68 L353.5 43.68 L353.75 43.68 L354 43.68 L354.25 43.68 L354.5 43.68 L354.75 43.68 L355 43.68 L355.25 43.68 L355.5 43.68 L355.75 43.68 L356 43.68 L356.25 43.68 L356.5 43.68 L356.75 43.68 L357 43.68 L357.25 43.68 L357.5 43.68 L357.75 43.68 L358 43.68 L358.25 43.68 L358.5 43.68 L358.75 43.68 L359 43.67 L359.25 43.67 L359.5 43.67 L359.75 43.67 L360 43.67 L360.25 43.67 L360.5 43.67 L360.75 43.67 L361 43.67 L361.25 43.67 L361.5 43.66 L361.75 43.66 L362 43.66 L362.25 43.66 L362.5 43.66 L362.75 43.65 L363 43.65 L363.25 43.65 L363.5 43.65 L363.75 43.64 L364 43.64 L364.25 43.64 L364.5 43.63 L364.75 43.63 L365 43.62 L365.25 43.62 L365.5 43.61 L365.75 43.61 L366 43.6 L366.25 43.59 L366.5 43.58 L366.75 43.57 L367 43.56 L367.25 43.55 L367.5 43.54 L367.75 43.53 L368 43.52 L368.25 43.5 L368.5 43.49 L368.75 43.47 L369 43.46 L369.25 43.44 L369.5 43.42 L369.75 43.4 L370 43.37 L370.25 43.35 L370.5 43.32 L370.75 43.29 L371 43.26 L371.25 43.23 L371.5 43.19 L371.75 43.15 L372 43.11 L372.25 43.07 L372.5 43.02 L372.75 42.97 L373 42.91 L373.25 42.86 L373.5 42.8 L373.75 42.73 L374 42.66 L374.25 42.58 L374.5 42.5 L374.75 42.42 L375 42.33 L375.25 42.23 L375.5 42.12 L375.75 42.01 L376 41.89 L376.25 41.76 L376.5 41.62 L376.75 41.48 L377 41.32 L377.25 41.16 L377.5 40.98 L377.75 40.79 L378 40.6 L378.25 40.39 L378.5 40.17 L378.75 39.94 L379 39.7 L379.25 39.44 L379.5 39.18 L379.75 38.91 L380 38.63 L380.25 38.34 L380.5 38.03 L380.75 37.72 L381 37.4 L381.25 37.07 L381.5 36.73 L381.75 36.38 L382 36.02 L382.25 35.65 L382.5 35.26 L382.75 34.86 L383 34.45 L383.25 34.02 L383.5 33.58 L383.75 33.13 L384 32.66 L384.25 32.17 L384.5 31.68 L384.75 31.16 L385 30.63 L385.25 30.09 L385.5 29.53 L385.75 28.96 L386 28.38 L386.25 27.81 L386.5 27.23 L386.75 26.65 L387 26.08 L387.25 25.5 L387.5 24.92 L387.75 24.34 L388 23.75 L388.25 23.16 L388.5 22.53 L388.75 21.87 L389 21.17 L389.25 20.46 L389.5 19.79 L389.75 19.15 L390 18.54 L390.25 17.96 L390.5 17.39 L390.75 16.83 L391 16.29 L391.25 15.8 L391.5 15.35 L391.75 14.86 L392 14.39 L392.25 14.02 L392.5 13.81 L392.75 13.81 L393 13.85 L393.25 13.93 L393.5 14.03 L393.75 14.19 L394 14.56 L394.25 15.13 L394.5 15.83 L394.75 16.66 L395 17.8 L395.25 19.17 L395.5 20.7 L395.75 22.51 L396 24.49 L396.25 26.63 L396.5 28.96 L396.75 31.48 L397 34.2 L397.25 37.16 L397.5 40.39 L397.75 43.9 L398 47.64 L398.25 51.43 L398.5 54.96 L398.75 58.74 L399 62.97 L399.25 67.56 L399.5 72.56 L399.75 78.15 L400 84.35 L400.25 91.18 L400.5 98.59 L400.75 106.37 L401 112.65 L401.25 118.24 L401.5 123.47 L401.75 129.2 L402 135.25 L402.25 141.02 L402.5 146.6 L402.75 152 L403 157.22 L403.25 162.31 L403.5 167.31 L403.75 172.23 L404 177.05 L404.25 181.79 L404.5 186.38 L404.75 190.74 L405 194.9 L405.25 198.85 L405.5 202.59 L405.75 206.17 L406 209.6 L406.25 212.89 L406.5 216.05 L406.75 219.08 L407 221.96 L407.25 224.69 L407.5 227.27 L407.75 229.74 L408 232.11 L408.25 234.35 L408.5 236.46 L408.75 238.44 L409 240.29 L409.25 241.96 L409.5 243.49 L409.75 244.89 L410 246.14 L410.25 247.27 L410.5 248.29 L410.75 249.2 L411 250.01 L411.25 250.74 L411.5 251.4 L411.75 251.98 L412 252.48 L412.25 252.9 L412.5 253.26 L412.75 253.56 L413 253.83 L413.25 254.05 L413.5 254.24 L413.75 254.39 L414 254.52 L414.25 254.62 L414.5 254.69 L414.75 254.74 L415 254.77 L415.25 254.77 L415.5 254.75 L415.75 254.71 L416 254.64 L416.25 254.55 L416.5 254.43 L416.75 254.29 L417 254.11 L417.25 253.9 L417.5 253.65 L417.75 253.35 L418 253.01 L418.25 252.62 L418.5 252.14 L418.75 251.59 L419 250.95 L419.25 250.25 L419.5 249.47 L419.75 248.59 L420 247.61 L420.25 246.52 L420.5 245.32 L420.75 243.97 L421 242.49 L421.25 240.88 L421.5 239.1 L421.75 237.16 L422 235.11 L422.25 232.92 L422.5 230.6 L422.75 228.18 L423 225.66 L423.25 223.01 L423.5 220.2 L423.75 217.24 L424 214.15 L424.25 210.94 L424.5 207.59 L424.75 204.09 L425 200.45 L425.25 196.63 L425.5 192.59 L425.75 188.35 L426 183.91 L426.25 179.26 L426.5 174.52 L426.75 169.7 L427 164.78 L427.25 159.79 L427.5 154.7 L427.75 149.46 L428 144.04 L428.25 138.44 L428.5 132.63 L428.75 126.66 L429 121.32 L429.25 116.04 L429.5 110.38 L429.75 103.61 L430 95.87 L430.25 88.82 L430.5 82.31 L430.75 76.4 L431 71.09 L431.25 66.31 L431.5 61.9 L431.75 57.84 L432 54.25 L432.25 50.77 L432.5 47.04 L432.75 43.43 L433 40.03 L433.25 36.9 L433.5 34.05 L433.75 31.41 L434 28.96 L434.25 26.7 L434.5 24.62 L434.75 22.69 L435 20.93 L435.25 19.41 L435.5 18.07 L435.75 16.91 L436 16.04 L436.25 15.35 L436.5 14.75 L436.75 14.32 L437 14.09 L437.25 13.98 L437.5 13.89 L437.75 13.83 L438 13.8 L438.25 13.84 L438.5 14.08 L438.75 14.45 L439 14.9 L439.25 15.34 L439.5 15.76 L439.75 16.21 L440 16.7 L440.25 17.21 L440.5 17.73 L440.75 18.24 L441 18.78 L441.25 19.34 L441.5 19.92 L441.75 20.53 L442 21.15 L442.25 21.77 L442.5 22.36 L442.75 22.91 L443 23.43 L443.25 23.94 L443.5 24.43 L443.75 24.92 L444 25.41 L444.25 25.89 L444.5 26.36 L444.75 26.83 L445 27.29 L445.25 27.75 L445.5 28.2 L445.75 28.65 L446 29.09 L446.25 29.52 L446.5 29.94 L446.75 30.34 L447 30.73 L447.25 31.11 L447.5 31.47 L447.75 31.82 L448 32.16 L448.25 32.48 L448.5 32.79 L448.75 33.09 L449 33.37 L449.25 33.64 L449.5 33.91 L449.75 34.16 L450 34.4 L450.25 34.62 L450.5 34.84 L450.75 35.05 L451 35.25 L451.25 35.44 L451.5 35.62 L451.75 35.79 L452 35.95 L452.25 36.11 L452.5 36.25 L452.75 36.39 L453 36.53 L453.25 36.65 L453.5 36.77 L453.75 36.88 L454 36.99 L454.25 37.09 L454.5 37.19 L454.75 37.28 L455 37.37 L455.25 37.45 L455.5 37.52 L455.75 37.6 L456 37.66 L456.25 37.73 L456.5 37.79 L456.75 37.84 L457 37.9 L457.25 37.94 L457.5 37.99 L457.75 38.03 L458 38.07 L458.25 38.11 L458.5 38.15 L458.75 38.18 L459 38.21 L459.25 38.24 L459.5 38.27 L459.75 38.29 L460 38.32 L460.25 38.34 L460.5 38.36 L460.75 38.38 L461 38.39 L461.25 38.41 L461.5 38.42 L461.75 38.44 L462 38.45 L462.25 38.46 L462.5 38.47 L462.75 38.48 L463 38.49 L463.25 38.5 L463.5 38.51 L463.75 38.52 L464 38.52 L464.25 38.53 L464.5 38.54 L464.75 38.54 L465 38.55 L465.25 38.55 L465.5 38.55 L465.75 38.56 L466 38.56 L466.25 38.57 L466.5 38.57 L466.75 38.57 L467 38.57 L467.25 38.58 L467.5 38.58 L467.75 38.58 L468 38.58 L468.25 38.58 L468.5 38.58 L468.75 38.59 L469 38.59 L469.25 38.59 L469.5 38.59 L469.75 38.59 L470 38.59 L470.25 38.59 L470.5 38.59 L470.75 38.59 L471 38.59 L471.25 38.59 L471.5 38.6 L471.75 38.6 L472 38.6 L472.25 38.6 L472.5 38.6 L472.6 38.6" stroke="#15126e" stroke-width="2.3" fill="none" stroke-dasharray="5.8 2.9" stroke-dashoffset="7.76" stroke-linejoin="round"/>
<path d="M129.4 68.3 H92.2 M102.8 61.4 L92 68.3 L102.8 75.2" stroke="#1c1ccc" stroke-width="2.0" fill="none"/>
<path d="M443 222.4 H468 M456.6 215.8 L468.2 222.4 L456.6 229" stroke="#d0181e" stroke-width="1.9" fill="none"/>
<rect x="82.1" y="2" width="390.5" height="262.6" fill="none" stroke="#000" stroke-width="2.2"/>
<path d="M92.89 264.6 v-3.2 M103.99 264.6 v-3.2 M115.08 264.6 v-3.2 M126.18 264.6 v-3.2 M137.27 264.6 v-4.6 M148.36 264.6 v-3.2 M159.46 264.6 v-3.2 M170.55 264.6 v-3.2 M181.65 264.6 v-3.2 M192.74 264.6 v-4.6 M203.83 264.6 v-3.2 M214.93 264.6 v-3.2 M226.02 264.6 v-3.2 M237.12 264.6 v-3.2 M248.21 264.6 v-4.6 M259.3 264.6 v-3.2 M270.4 264.6 v-3.2 M281.49 264.6 v-3.2 M292.59 264.6 v-3.2 M303.68 264.6 v-4.6 M314.77 264.6 v-3.2 M325.87 264.6 v-3.2 M336.96 264.6 v-3.2 M348.06 264.6 v-3.2 M359.15 264.6 v-4.6 M370.24 264.6 v-3.2 M381.34 264.6 v-3.2 M392.43 264.6 v-3.2 M403.53 264.6 v-3.2 M414.62 264.6 v-4.6 M425.71 264.6 v-3.2 M436.81 264.6 v-3.2 M447.9 264.6 v-3.2 M459 264.6 v-3.2 M470.09 264.6 v-4.6" stroke="#000" stroke-width="1.5" fill="none"/>
<path d="M82.1 249.78 h3.2 M82.1 234.95 h3.2 M82.1 220.12 h3.2 M82.1 205.3 h3.2 M82.1 190.48 h3.2 M82.1 175.65 h3.2 M82.1 160.83 h3.2 M82.1 146 h3.2 M82.1 131.18 h3.2 M82.1 116.35 h3.2 M82.1 101.53 h3.2 M82.1 86.7 h3.2 M82.1 71.88 h3.2 M82.1 57.05 h3.2 M82.1 42.23 h3.2 M82.1 27.4 h3.2 M82.1 205.3 h4.6 M82.1 146 h4.6 M82.1 86.7 h4.6 M82.1 27.4 h4.6" stroke="#000" stroke-width="1.5" fill="none"/>
<path d="M472.6 255.23 h-3.2 M472.6 245.85 h-3.2 M472.6 236.47 h-3.2 M472.6 227.1 h-3.2 M472.6 217.72 h-3.2 M472.6 208.35 h-3.2 M472.6 198.97 h-3.2 M472.6 189.6 h-3.2 M472.6 180.22 h-3.2 M472.6 170.85 h-3.2 M472.6 161.47 h-3.2 M472.6 152.1 h-3.2 M472.6 142.73 h-3.2 M472.6 133.35 h-3.2 M472.6 123.98 h-3.2 M472.6 114.6 h-3.2 M472.6 105.23 h-3.2 M472.6 95.85 h-3.2 M472.6 86.48 h-3.2 M472.6 77.1 h-3.2 M472.6 67.73 h-3.2 M472.6 58.35 h-3.2 M472.6 48.98 h-3.2 M472.6 39.6 h-3.2 M472.6 30.23 h-3.2 M472.6 20.85 h-3.2 M472.6 11.47 h-3.2 M472.6 227.1 h-5.5 M472.6 189.6 h-5.5 M472.6 152.1 h-5.5 M472.6 114.6 h-5.5 M472.6 77.1 h-5.5 M472.6 39.6 h-5.5" stroke="#000" stroke-width="1.5" fill="none"/>
<text x="78.6" y="35.83" font-size="23" text-anchor="end" fill="#000">0.8</text>
<text x="78.6" y="95.63" font-size="23" text-anchor="end" fill="#000">0.6</text>
<text x="78.6" y="154.83" font-size="23" text-anchor="end" fill="#000">0.4</text>
<text x="78.6" y="214.13" font-size="23" text-anchor="end" fill="#000">0.2</text>
<text x="78.6" y="270.03" font-size="23" text-anchor="end" fill="#000">0.0</text>
<text x="475.8" y="17.23" font-size="23" text-anchor="start" fill="#000">0.86</text>
<text x="475.8" y="51.03" font-size="23" text-anchor="start" fill="#000">0.84</text>
<text x="475.8" y="87.03" font-size="23" text-anchor="start" fill="#000">0.82</text>
<text x="475.8" y="125.23" font-size="23" text-anchor="start" fill="#000">0.80</text>
<text x="475.8" y="161.53" font-size="23" text-anchor="start" fill="#000">0.78</text>
<text x="475.8" y="199.43" font-size="23" text-anchor="start" fill="#000">0.76</text>
<text x="475.8" y="236.43" font-size="23" text-anchor="start" fill="#000">0.74</text>
<text x="475.8" y="270.53" font-size="23" text-anchor="start" fill="#000">0.72</text>
<text x="86.9" y="286.43" font-size="23" text-anchor="middle" fill="#000">0</text>
<text x="191" y="286.43" font-size="23" text-anchor="middle" fill="#000">200</text>
<text x="300.5" y="286.43" font-size="23" text-anchor="middle" fill="#000">400</text>
<text x="410.8" y="286.43" font-size="23" text-anchor="middle" fill="#000">600</text>
<text x="83.2" y="26.36" font-size="25.3" text-anchor="start" fill="#000">(a)</text>
<text x="209.8" y="42.26" font-size="21.4" text-anchor="middle" fill="#14149b">NOR</text>
<text x="348.4" y="39.96" font-size="21.4" text-anchor="middle" fill="#14149b">NOT</text>
<text x="209.2" y="95.96" font-size="21.4" text-anchor="middle" fill="#d0181e">AND</text>
<text x="209.4" y="128.66" font-size="21.4" text-anchor="middle" fill="#14149b">NAND</text>
<text x="207.4" y="246.46" font-size="21.4" text-anchor="middle" fill="#d0181e">OR</text>
<path d="M83 484.2 H473" stroke="#000" stroke-width="1.9" stroke-dasharray="2.2 2.2" fill="none"/>
<path d="M83 484.2 L83.4 484.2 L83.8 484.2 L84.2 484.2 L84.6 484.2 L85 484.19 L85.4 484.19 L85.8 484.19 L86.2 484.19 L86.6 484.19 L87 484.19 L87.4 484.19 L87.8 484.18 L88.2 484.18 L88.6 484.18 L89 484.17 L89.4 484.17 L89.8 484.16 L90.2 484.16 L90.6 484.15 L91 484.14 L91.4 484.13 L91.8 484.12 L92.2 484.11 L92.6 484.1 L93 484.08 L93.4 484.07 L93.8 484.05 L94.2 484.02 L94.6 484 L95 483.97 L95.4 483.93 L95.8 483.89 L96.2 483.85 L96.6 483.8 L97 483.75 L97.4 483.68 L97.8 483.61 L98.2 483.53 L98.6 483.45 L99 483.35 L99.4 483.23 L99.8 483.11 L100.2 482.97 L100.6 482.82 L101 482.64 L101.4 482.45 L101.8 482.24 L102.2 482 L102.6 481.74 L103 481.45 L103.4 481.14 L103.8 480.79 L104.2 480.4 L104.6 479.98 L105 479.51 L105.4 479.01 L105.8 478.45 L106.2 477.85 L106.6 477.2 L107 476.49 L107.4 475.7 L107.8 474.85 L108.2 473.9 L108.6 472.84 L109 471.69 L109.4 470.46 L109.8 469.16 L110.2 467.83 L110.6 466.46 L111 465.02 L111.4 463.47 L111.8 461.78 L112.2 459.95 L112.6 457.97 L113 455.86 L113.4 453.63 L113.8 451.28 L114.2 448.84 L114.6 446.3 L115 443.64 L115.4 440.89 L115.8 438.03 L116.2 435.08 L116.6 432.06 L117 428.94 L117.4 425.71 L117.8 422.36 L118.2 418.9 L118.6 415.32 L119 411.59 L119.4 407.7 L119.8 403.71 L120.2 399.68 L120.6 395.61 L121 391.51 L121.4 387.43 L121.8 383.37 L122.2 379.32 L122.6 375.31 L123 371.35 L123.4 367.44 L123.8 363.62 L124.2 359.88 L124.6 356.22 L125 352.77 L125.4 349.6 L125.8 346.64 L126.2 343.91 L126.6 341.37 L127 339.02 L127.4 337.01 L127.8 335.27 L128.2 333.76 L128.6 332.52 L129 331.47 L129.4 330.57 L129.8 329.79 L130.2 329.13 L130.6 328.51 L131 327.85 L131.4 327.18 L131.8 326.54 L132.2 325.99 L132.6 325.48 L133 325.08 L133.4 324.83 L133.8 324.65 L134.2 324.6 L134.6 324.65 L135 324.72 L135.4 324.8 L135.8 324.88 L136.2 324.98 L136.6 325.09 L137 325.19 L137.4 325.28 L137.8 325.35 L138.2 325.38 L138.6 325.39 L139 325.36 L139.4 325.3 L139.8 325.22 L140.2 325.12 L140.6 325.01 L141 324.91 L141.4 324.82 L141.8 324.74 L142.2 324.66 L142.6 324.61 L143 324.62 L143.4 324.77 L143.8 325 L144.2 325.35 L144.6 325.84 L145 326.38 L145.4 326.99 L145.8 327.66 L146.2 328.32 L146.6 328.94 L147 329.58 L147.4 330.32 L147.8 331.17 L148.2 332.16 L148.6 333.32 L149 334.73 L149.4 336.38 L149.8 338.26 L150.2 340.48 L150.6 342.94 L151 345.56 L151.4 348.4 L151.8 351.45 L152.2 354.73 L152.6 358.27 L153 361.93 L153.4 365.65 L153.8 369.45 L154.2 373.32 L154.6 377.23 L155 381.18 L155.4 385.16 L155.8 389.13 L156.2 393.12 L156.6 397.11 L157 401.05 L157.4 404.95 L157.8 408.79 L158.2 412.51 L158.6 416.07 L159 419.48 L159.4 422.77 L159.8 425.96 L160.2 429.03 L160.6 431.98 L161 434.84 L161.4 437.61 L161.8 440.29 L162.2 442.88 L162.6 445.36 L163 447.73 L163.4 449.99 L163.8 452.16 L164.2 454.24 L164.6 456.2 L165 458.04 L165.4 459.76 L165.8 461.36 L166.2 462.83 L166.6 464.17 L167 465.4 L167.4 466.56 L167.8 467.65 L168.2 468.68 L168.6 469.68 L169 470.63 L169.4 471.53 L169.8 472.35 L170.2 473.11 L170.6 473.8 L171 474.42 L171.4 474.98 L171.8 475.48 L172.2 475.94 L172.6 476.36 L173 476.73 L173.4 477.07 L173.8 477.38 L174.2 477.66 L174.6 477.92 L175 478.14 L175.4 478.35 L175.8 478.54 L176.2 478.7 L176.6 478.86 L177 478.99 L177.4 479.11 L177.8 479.22 L178.2 479.32 L178.6 479.41 L179 479.48 L179.4 479.55 L179.8 479.61 L180.2 479.67 L180.6 479.72 L181 479.76 L181.4 479.8 L181.8 479.83 L182.2 479.86 L182.6 479.88 L183 479.91 L183.4 479.93 L183.8 479.94 L184.2 479.96 L184.6 479.97 L185 479.98 L185.4 479.99 L185.8 480 L186.2 480.01 L186.6 480.02 L187 480.02 L187.4 480.03 L187.8 480.03 L188.2 480.04 L188.6 480.04 L189 480.04 L189.4 480.04 L189.8 480.05 L190.2 480.05 L190.6 480.05 L191 480.05 L191.4 480.05 L191.8 480.05 L192.2 480.05 L192.6 480.05 L193 480.06 L193.4 480.06 L193.8 480.06 L194.2 480.06 L194.6 480.06 L195 480.06 L195.4 480.06 L195.8 480.06 L196.2 480.06 L196.6 480.06 L197 480.06 L197.4 480.06 L197.8 480.06 L198.2 480.06 L198.6 480.06 L199 480.06 L199.4 480.06 L199.8 480.06 L200.2 480.06 L200.6 480.06 L201 480.06 L201.4 480.06 L201.8 480.06 L202.2 480.06 L202.6 480.06 L203 480.06 L203.4 480.06 L203.8 480.06 L204.2 480.06 L204.6 480.06 L205 480.06 L205.4 480.06 L205.8 480.06 L206.2 480.06 L206.6 480.06 L207 480.06 L207.4 480.06 L207.8 480.06 L208.2 480.06 L208.6 480.06 L209 480.06 L209.4 480.06 L209.8 480.06 L210.2 480.06 L210.6 480.06 L211 480.06 L211.4 480.06 L211.8 480.06 L212.2 480.06 L212.6 480.06 L213 480.06 L213.4 480.06 L213.8 480.06 L214.2 480.06 L214.6 480.06 L215 480.06 L215.4 480.06 L215.8 480.06 L216.2 480.06 L216.6 480.06 L217 480.06 L217.4 480.06 L217.8 480.06 L218.2 480.06 L218.6 480.06 L219 480.06 L219.4 480.06 L219.8 480.06 L220.2 480.06 L220.6 480.06 L221 480.06 L221.4 480.06 L221.8 480.06 L222.2 480.06 L222.6 480.06 L223 480.06 L223.4 480.05 L223.8 480.05 L224.2 480.05 L224.6 480.05 L225 480.05 L225.4 480.05 L225.8 480.05 L226.2 480.05 L226.6 480.04 L227 480.04 L227.4 480.04 L227.8 480.03 L228.2 480.03 L228.6 480.03 L229 480.02 L229.4 480.01 L229.8 480.01 L230.2 480 L230.6 479.99 L231 479.98 L231.4 479.97 L231.8 479.95 L232.2 479.94 L232.6 479.92 L233 479.9 L233.4 479.87 L233.8 479.84 L234.2 479.81 L234.6 479.78 L235 479.74 L235.4 479.69 L235.8 479.64 L236.2 479.58 L236.6 479.52 L237 479.44 L237.4 479.36 L237.8 479.27 L238.2 479.17 L238.6 479.05 L239 478.92 L239.4 478.78 L239.8 478.62 L240.2 478.44 L240.6 478.25 L241 478.03 L241.4 477.79 L241.8 477.52 L242.2 477.22 L242.6 476.9 L243 476.54 L243.4 476.14 L243.8 475.71 L244.2 475.22 L244.6 474.69 L245 474.1 L245.4 473.44 L245.8 472.72 L246.2 471.92 L246.6 471.06 L247 470.14 L247.4 469.16 L247.8 468.14 L248.2 467.07 L248.6 465.95 L249 464.75 L249.4 463.47 L249.8 462.05 L250.2 460.51 L250.6 458.85 L251 457.06 L251.4 455.15 L251.8 453.13 L252.2 450.99 L252.6 448.77 L253 446.45 L253.4 444.01 L253.8 441.47 L254.2 438.83 L254.6 436.09 L255 433.26 L255.4 430.35 L255.8 427.33 L256.2 424.19 L256.6 420.94 L257 417.58 L257.4 414.08 L257.8 410.41 L258.2 406.61 L258.6 402.71 L259 398.79 L259.4 394.81 L259.8 390.8 L260.2 386.81 L260.6 382.82 L261 378.84 L261.4 374.9 L261.8 371 L262.2 367.15 L262.6 363.37 L263 359.68 L263.4 356.05 L263.8 352.64 L264.2 349.5 L264.6 346.56 L265 343.85 L265.4 341.31 L265.8 338.98 L266.2 336.98 L266.6 335.24 L267 333.73 L267.4 332.49 L267.8 331.44 L268.2 330.54 L268.6 329.76 L269 329.09 L269.4 328.46 L269.8 327.79 L270.2 327.11 L270.6 326.47 L271 325.91 L271.4 325.39 L271.8 325.01 L272.2 324.77 L272.6 324.61 L273 324.61 L273.4 324.68 L273.8 324.77 L274.2 324.86 L274.6 324.98 L275 325.11 L275.4 325.26 L275.8 325.41 L276.2 325.57 L276.6 325.73 L277 325.85 L277.4 325.89 L277.8 325.86 L278.2 325.76 L278.6 325.61 L279 325.44 L279.4 325.3 L279.8 325.15 L280.2 325.01 L280.6 324.89 L281 324.79 L281.4 324.7 L281.8 324.63 L282.2 324.6 L282.6 324.71 L283 324.94 L283.4 325.27 L283.8 325.75 L284.2 326.3 L284.6 326.92 L285 327.59 L285.4 328.27 L285.8 328.9 L286.2 329.54 L286.6 330.28 L287 331.14 L287.4 332.13 L287.8 333.28 L288.2 334.69 L288.6 336.34 L289 338.21 L289.4 340.42 L289.8 342.87 L290.2 345.47 L290.6 348.29 L291 351.31 L291.4 354.56 L291.8 358.06 L292.2 361.68 L292.6 365.35 L293 369.1 L293.4 372.91 L293.8 376.75 L294.2 380.63 L294.6 384.53 L295 388.42 L295.4 392.32 L295.8 396.22 L296.2 400.07 L296.6 403.86 L297 407.61 L297.4 411.25 L297.8 414.74 L298.2 418.07 L298.6 421.27 L299 424.36 L299.4 427.34 L299.8 430.19 L300.2 432.94 L300.6 435.6 L301 438.17 L301.4 440.64 L301.8 443.01 L302.2 445.28 L302.6 447.44 L303 449.49 L303.4 451.46 L303.8 453.33 L304.2 455.09 L304.6 456.75 L305 458.3 L305.4 459.74 L305.8 461.07 L306.2 462.3 L306.6 463.42 L307 464.45 L307.4 465.39 L307.8 466.26 L308.2 467.07 L308.6 467.84 L309 468.56 L309.4 469.23 L309.8 469.87 L310.2 470.46 L310.6 471.01 L311 471.51 L311.4 471.98 L311.8 472.4 L312.2 472.78 L312.6 473.12 L313 473.43 L313.4 473.71 L313.8 473.97 L314.2 474.19 L314.6 474.39 L315 474.58 L315.4 474.74 L315.8 474.88 L316.2 475.01 L316.6 475.13 L317 475.23 L317.4 475.32 L317.8 475.4 L318.2 475.48 L318.6 475.54 L319 475.6 L319.4 475.65 L319.8 475.69 L320.2 475.73 L320.6 475.77 L321 475.8 L321.4 475.83 L321.8 475.85 L322.2 475.87 L322.6 475.89 L323 475.91 L323.4 475.92 L323.8 475.93 L324.2 475.94 L324.6 475.95 L325 475.96 L325.4 475.97 L325.8 475.97 L326.2 475.98 L326.6 475.98 L327 475.99 L327.4 475.99 L327.8 475.99 L328.2 476 L328.6 476 L329 476 L329.4 476 L329.8 476 L330.2 476 L330.6 476.01 L331 476.01 L331.4 476.01 L331.8 476.01 L332.2 476.01 L332.6 476.01 L333 476.01 L333.4 476.01 L333.8 476.01 L334.2 476.01 L334.6 476.01 L335 476.01 L335.4 476.01 L335.8 476.01 L336.2 476.01 L336.6 476.01 L337 476.01 L337.4 476.01 L337.8 476.01 L338.2 476.01 L338.6 476.01 L339 476.01 L339.4 476.01 L339.8 476.01 L340.2 476.01 L340.6 476.01 L341 476.01 L341.4 476.01 L341.8 476.01 L342.2 476.01 L342.6 476.01 L343 476.01 L343.4 476.01 L343.8 476.01 L344.2 476.01 L344.6 476.01 L345 476.01 L345.4 476.01 L345.8 476.01 L346.2 476.01 L346.6 476.01 L347 476.01 L347.4 476.01 L347.8 476.01 L348.2 476.01 L348.6 476.01 L349 476.01 L349.4 476.01 L349.8 476.01 L350.2 476.01 L350.6 476.01 L351 476.01 L351.4 476.01 L351.8 476.01 L352.2 476.01 L352.6 476.01 L353 476.01 L353.4 476.01 L353.8 476.01 L354.2 476.01 L354.6 476.01 L355 476.01 L355.4 476.01 L355.8 476.01 L356.2 476.01 L356.6 476.01 L357 476.01 L357.4 476.01 L357.8 476.01 L358.2 476.01 L358.6 476.01 L359 476.01 L359.4 476.01 L359.8 476.01 L360.2 476.01 L360.6 476.01 L361 476.01 L361.4 476.01 L361.8 476.01 L362.2 476.01 L362.6 476.01 L363 476.01 L363.4 476 L363.8 476 L364.2 476 L364.6 476 L365 476 L365.4 476 L365.8 475.99 L366.2 475.99 L366.6 475.99 L367 475.98 L367.4 475.98 L367.8 475.97 L368.2 475.96 L368.6 475.95 L369 475.94 L369.4 475.93 L369.8 475.92 L370.2 475.91 L370.6 475.89 L371 475.87 L371.4 475.85 L371.8 475.82 L372.2 475.79 L372.6 475.76 L373 475.72 L373.4 475.68 L373.8 475.63 L374.2 475.57 L374.6 475.5 L375 475.43 L375.4 475.35 L375.8 475.25 L376.2 475.15 L376.6 475.02 L377 474.89 L377.4 474.73 L377.8 474.56 L378.2 474.36 L378.6 474.14 L379 473.89 L379.4 473.61 L379.8 473.29 L380.2 472.93 L380.6 472.54 L381 472.1 L381.4 471.61 L381.8 471.07 L382.2 470.47 L382.6 469.83 L383 469.13 L383.4 468.38 L383.8 467.57 L384.2 466.71 L384.6 465.78 L385 464.77 L385.4 463.67 L385.8 462.44 L386.2 461.08 L386.6 459.59 L387 457.96 L387.4 456.18 L387.8 454.26 L388.2 452.2 L388.6 450.01 L389 447.69 L389.4 445.22 L389.8 442.6 L390.2 439.84 L390.6 436.92 L391 433.87 L391.4 430.68 L391.8 427.34 L392.2 423.79 L392.6 420.08 L393 416.17 L393.4 412.02 L393.8 407.61 L394.2 403 L394.6 398.29 L395 393.45 L395.4 388.53 L395.8 383.57 L396.2 378.55 L396.6 373.52 L397 368.48 L397.4 363.48 L397.8 358.53 L398.2 353.69 L398.6 349.26 L399 345.15 L399.4 341.37 L399.8 337.96 L400.2 335.17 L400.6 333.23 L401 331.92 L401.4 330.86 L401.8 329.96 L402.2 328.95 L402.6 327.98 L403 327.27 L403.4 327.14 L403.8 327.46 L404.2 329.04 L404.6 332.16 L405 336.63 L405.4 342.43 L405.8 348.63 L406.2 355.21 L406.6 362.13 L407 369.27 L407.4 376.65 L407.8 384.24 L408.2 392.02 L408.6 399.94 L409 408 L409.4 416.1 L409.8 424.12 L410.2 432.04 L410.6 439.89 L411 447.63 L411.4 455.22 L411.8 462.72 L412.2 470.07 L412.6 477.2 L413 484.08 L413.4 490.67 L413.8 496.97 L414.2 502.99 L414.6 508.52 L415 513.68 L415.4 518.52 L415.8 522.94 L416.2 526.61 L416.6 529.28 L417 530.86 L417.4 531.29 L417.8 530.57 L418.2 528.72 L418.6 525.78 L419 521.9 L419.4 517.35 L419.8 512.44 L420.2 507.21 L420.6 501.57 L421 495.48 L421.4 489.12 L421.8 482.48 L422.2 475.55 L422.6 468.39 L423 461.02 L423.4 453.53 L423.8 445.94 L424.2 438.2 L424.6 430.37 L425 422.47 L425.4 414.47 L425.8 406.41 L426.2 398.42 L426.6 390.57 L427 382.88 L427.4 375.38 L427.8 368.08 L428.2 361.04 L428.6 354.22 L429 347.76 L429.4 341.66 L429.8 336 L430.2 331.78 L430.6 328.79 L431 327.41 L431.4 327.12 L431.8 327.3 L432.2 328.02 L432.6 328.97 L433 329.96 L433.4 330.84 L433.8 331.88 L434.2 333.15 L434.6 334.97 L435 337.64 L435.4 340.9 L435.8 344.53 L436.2 348.45 L436.6 352.67 L437 357.26 L437.4 362.03 L437.8 366.8 L438.2 371.61 L438.6 376.41 L439 381.19 L439.4 385.91 L439.8 390.56 L440.2 395.15 L440.6 399.63 L441 403.98 L441.4 408.2 L441.8 412.22 L442.2 415.98 L442.6 419.53 L443 422.88 L443.4 426.06 L443.8 429.06 L444.2 431.89 L444.6 434.57 L445 437.13 L445.4 439.55 L445.8 441.83 L446.2 443.97 L446.6 445.98 L447 447.86 L447.4 449.61 L447.8 451.24 L448.2 452.77 L448.6 454.19 L449 455.49 L449.4 456.7 L449.8 457.8 L450.2 458.8 L450.6 459.71 L451 460.54 L451.4 461.29 L451.8 461.97 L452.2 462.58 L452.6 463.13 L453 463.62 L453.4 464.06 L453.8 464.46 L454.2 464.82 L454.6 465.14 L455 465.42 L455.4 465.68 L455.8 465.91 L456.2 466.12 L456.6 466.31 L457 466.47 L457.4 466.62 L457.8 466.75 L458.2 466.87 L458.6 466.97 L459 467.07 L459.4 467.15 L459.8 467.22 L460.2 467.28 L460.6 467.34 L461 467.39 L461.4 467.43 L461.8 467.47 L462.2 467.51 L462.6 467.54 L463 467.56 L463.4 467.58 L463.8 467.6 L464.2 467.62 L464.6 467.64 L465 467.65 L465.4 467.66 L465.8 467.67 L466.2 467.68 L466.6 467.69 L467 467.69 L467.4 467.7 L467.8 467.7 L468.2 467.71 L468.6 467.71 L469 467.71 L469.4 467.71 L469.8 467.72 L470.2 467.72 L470.6 467.72 L471 467.72 L471.4 467.72 L471.8 467.72 L472.2 467.72 L472.6 467.72 L473 467.72 L473 467.72" stroke="#5a2d8c" stroke-width="2.2" fill="none" stroke-linejoin="round"/>
<rect x="83" y="300.2" width="390" height="262.8" fill="none" stroke="#000" stroke-width="2.35"/>
<path d="M94.1 563 v-3.2 M105.2 563 v-3.2 M116.3 563 v-3.2 M127.4 563 v-3.2 M138.5 563 v-4.6 M149.6 563 v-3.2 M160.7 563 v-3.2 M171.8 563 v-3.2 M182.9 563 v-3.2 M194 563 v-4.6 M205.1 563 v-3.2 M216.2 563 v-3.2 M227.3 563 v-3.2 M238.4 563 v-3.2 M249.5 563 v-4.6 M260.6 563 v-3.2 M271.7 563 v-3.2 M282.8 563 v-3.2 M293.9 563 v-3.2 M305 563 v-4.6 M316.1 563 v-3.2 M327.2 563 v-3.2 M338.3 563 v-3.2 M349.4 563 v-3.2 M360.5 563 v-4.6 M371.6 563 v-3.2 M382.7 563 v-3.2 M393.8 563 v-3.2 M404.9 563 v-3.2 M416 563 v-4.6 M427.1 563 v-3.2 M438.2 563 v-3.2 M449.3 563 v-3.2 M460.4 563 v-3.2 M471.5 563 v-4.6" stroke="#000" stroke-width="1.5" fill="none"/>
<path d="M83 549.29 h3.2 M83 536.17 h3.2 M83 523.05 h3.2 M83 509.93 h3.2 M83 496.81 h3.2 M83 483.69 h3.2 M83 470.57 h3.2 M83 457.45 h3.2 M83 444.33 h3.2 M83 431.21 h3.2 M83 418.09 h3.2 M83 404.97 h3.2 M83 391.85 h3.2 M83 378.73 h3.2 M83 365.61 h3.2 M83 352.49 h3.2 M83 339.37 h3.2 M83 326.25 h3.2 M83 523.05 h4.6 M83 457.45 h4.6 M83 391.85 h4.6 M83 326.25 h4.6" stroke="#000" stroke-width="1.5" fill="none"/>
<text x="78.6" y="335.48" font-size="23" text-anchor="end" fill="#000">0.85</text>
<text x="78.6" y="401.08" font-size="23" text-anchor="end" fill="#000">0.80</text>
<text x="78.6" y="466.68" font-size="23" text-anchor="end" fill="#000">0.75</text>
<text x="78.6" y="532.28" font-size="23" text-anchor="end" fill="#000">0.70</text>
<text x="87.4" y="584.03" font-size="23" text-anchor="middle" fill="#000">0</text>
<text x="191.5" y="584.03" font-size="23" text-anchor="middle" fill="#000">200</text>
<text x="301.6" y="584.03" font-size="23" text-anchor="middle" fill="#000">400</text>
<text x="411.7" y="584.03" font-size="23" text-anchor="middle" fill="#000">600</text>
<text x="84" y="323.36" font-size="25.3" text-anchor="start" fill="#000">(b)</text>
<text x="210" y="504.66" font-size="21.4" text-anchor="middle" fill="#5a2d8c">XOR</text>
<path d="M81.6 853.8 L82.1 853.8 L82.6 853.8 L83.1 853.8 L83.6 853.8 L84.1 853.8 L84.6 853.8 L85.1 853.8 L85.6 853.8 L86.1 853.79 L86.6 853.79 L87.1 853.79 L87.6 853.79 L88.1 853.79 L88.6 853.79 L89.1 853.78 L89.6 853.78 L90.1 853.78 L90.6 853.77 L91.1 853.76 L91.6 853.76 L92.1 853.75 L92.6 853.74 L93.1 853.73 L93.6 853.72 L94.1 853.7 L94.6 853.68 L95.1 853.66 L95.6 853.64 L96.1 853.61 L96.6 853.58 L97.1 853.54 L97.6 853.49 L98.1 853.44 L98.6 853.39 L99.1 853.32 L99.6 853.24 L100.1 853.16 L100.6 853.06 L101.1 852.95 L101.6 852.82 L102.1 852.68 L102.6 852.51 L103.1 852.33 L103.6 852.13 L104.1 851.9 L104.6 851.64 L105.1 851.36 L105.6 851.04 L106.1 850.68 L106.6 850.29 L107.1 849.85 L107.6 849.37 L108.1 848.84 L108.6 848.26 L109.1 847.62 L109.6 846.92 L110.1 846.16 L110.6 845.33 L111.1 844.43 L111.6 843.45 L112.1 842.39 L112.6 841.25 L113.1 840.02 L113.6 838.7 L114.1 837.29 L114.6 835.78 L115.1 834.17 L115.6 832.46 L116.1 830.64 L116.6 828.72 L117.1 826.69 L117.6 824.56 L118.1 822.32 L118.6 819.98 L119.1 817.53 L119.6 814.98 L120.1 812.33 L120.6 809.59 L121.1 806.76 L121.6 803.84 L122.1 800.85 L122.6 797.79 L123.1 794.67 L123.6 791.49 L124.1 788.28 L124.6 785.03 L125.1 781.77 L125.6 778.49 L126.1 775.23 L126.6 771.98 L127.1 768.76 L127.6 765.59 L128.1 762.48 L128.6 759.44 L129.1 756.5 L129.6 753.65 L130.1 750.93 L130.6 748.34 L131.1 745.9 L131.6 743.61 L132.1 741.5 L132.6 739.57 L133.1 737.84 L133.6 736.31 L134.1 734.99 L134.6 733.89 L135.1 733.02 L135.6 732.38 L136.1 731.97 L136.6 731.8 L137.1 731.88 L137.6 732.19 L138.1 732.73 L138.6 733.51 L139.1 734.52 L139.6 735.75 L140.1 737.2 L140.6 738.85 L141.1 740.71 L141.6 742.75 L142.1 744.96 L142.6 747.35 L143.1 749.88 L143.6 752.55 L144.1 755.35 L144.6 758.25 L145.1 761.25 L145.6 764.33 L146.1 767.48 L146.6 770.68 L147.1 773.92 L147.6 777.19 L148.1 780.46 L148.6 783.73 L149.1 786.98 L149.6 790.21 L150.1 793.4 L150.6 796.55 L151.1 799.63 L151.6 802.65 L152.1 805.6 L152.6 808.46 L153.1 811.24 L153.6 813.93 L154.1 816.52 L154.6 819.01 L155.1 821.4 L155.6 823.68 L156.1 825.85 L156.6 827.92 L157.1 829.89 L157.6 831.74 L158.1 833.5 L158.6 835.15 L159.1 836.7 L159.6 838.15 L160.1 839.5 L160.6 840.77 L161.1 841.94 L161.6 843.04 L162.1 844.05 L162.6 844.98 L163.1 845.84 L163.6 846.63 L164.1 847.35 L164.6 848.01 L165.1 848.62 L165.6 849.17 L166.1 849.67 L166.6 850.12 L167.1 850.53 L167.6 850.9 L168.1 851.23 L168.6 851.53 L169.1 851.8 L169.6 852.04 L170.1 852.25 L170.6 852.44 L171.1 852.61 L171.6 852.76 L172.1 852.9 L172.6 853.02 L173.1 853.12 L173.6 853.21 L174.1 853.29 L174.6 853.36 L175.1 853.42 L175.6 853.47 L176.1 853.52 L176.6 853.56 L177.1 853.6 L177.6 853.63 L178.1 853.65 L178.6 853.67 L179.1 853.69 L179.6 853.71 L180.1 853.72 L180.6 853.74 L181.1 853.75 L181.6 853.75 L182.1 853.76 L182.6 853.77 L183.1 853.77 L183.6 853.78 L184.1 853.78 L184.6 853.78 L185.1 853.79 L185.6 853.79 L186.1 853.79 L186.6 853.79 L187.1 853.79 L187.6 853.8 L188.1 853.8 L188.6 853.8 L189.1 853.8 L189.6 853.8 L190.1 853.8 L190.6 853.8 L191.1 853.8 L191.6 853.8 L192.1 853.8 L192.6 853.8 L193.1 853.8 L193.6 853.8 L194.1 853.8 L194.6 853.8 L195.1 853.8 L195.6 853.8 L196.1 853.8 L196.6 853.8 L197.1 853.8 L197.6 853.8 L198.1 853.8 L198.6 853.8 L199.1 853.8 L199.6 853.8 L200.1 853.8 L200.6 853.8 L201.1 853.8 L201.6 853.8 L202.1 853.8 L202.6 853.8 L203.1 853.8 L203.6 853.8 L204.1 853.8 L204.6 853.8 L205.1 853.8 L205.6 853.8 L206.1 853.8 L206.6 853.8 L207.1 853.8 L207.6 853.8 L208.1 853.8 L208.6 853.8 L209.1 853.8 L209.6 853.8 L210.1 853.8 L210.6 853.8 L211.1 853.8 L211.6 853.8 L212.1 853.8 L212.6 853.8 L213.1 853.8 L213.6 853.8 L214.1 853.8 L214.6 853.8 L215.1 853.8 L215.6 853.8 L216.1 853.8 L216.6 853.8 L217.1 853.8 L217.6 853.8 L218.1 853.8 L218.6 853.8 L219.1 853.8 L219.6 853.8 L220.1 853.8 L220.6 853.8 L221.1 853.8 L221.6 853.8 L222.1 853.8 L222.6 853.8 L223.1 853.8 L223.6 853.8 L224.1 853.8 L224.6 853.79 L225.1 853.79 L225.6 853.79 L226.1 853.79 L226.6 853.79 L227.1 853.78 L227.6 853.78 L228.1 853.78 L228.6 853.77 L229.1 853.77 L229.6 853.76 L230.1 853.75 L230.6 853.75 L231.1 853.74 L231.6 853.72 L232.1 853.71 L232.6 853.69 L233.1 853.67 L233.6 853.65 L234.1 853.63 L234.6 853.6 L235.1 853.56 L235.6 853.52 L236.1 853.47 L236.6 853.42 L237.1 853.36 L237.6 853.29 L238.1 853.21 L238.6 853.12 L239.1 853.02 L239.6 852.9 L240.1 852.76 L240.6 852.61 L241.1 852.44 L241.6 852.25 L242.1 852.04 L242.6 851.8 L243.1 851.53 L243.6 851.23 L244.1 850.9 L244.6 850.53 L245.1 850.12 L245.6 849.67 L246.1 849.17 L246.6 848.62 L247.1 848.01 L247.6 847.35 L248.1 846.63 L248.6 845.84 L249.1 844.98 L249.6 844.05 L250.1 843.04 L250.6 841.94 L251.1 840.77 L251.6 839.5 L252.1 838.15 L252.6 836.7 L253.1 835.15 L253.6 833.5 L254.1 831.74 L254.6 829.89 L255.1 827.92 L255.6 825.85 L256.1 823.68 L256.6 821.4 L257.1 819.01 L257.6 816.52 L258.1 813.93 L258.6 811.24 L259.1 808.46 L259.6 805.6 L260.1 802.65 L260.6 799.63 L261.1 796.55 L261.6 793.4 L262.1 790.21 L262.6 786.98 L263.1 783.73 L263.6 780.46 L264.1 777.19 L264.6 773.92 L265.1 770.68 L265.6 767.48 L266.1 764.33 L266.6 761.25 L267.1 758.25 L267.6 755.35 L268.1 752.55 L268.6 749.88 L269.1 747.35 L269.6 744.96 L270.1 742.75 L270.6 740.71 L271.1 738.85 L271.6 737.2 L272.1 735.75 L272.6 734.52 L273.1 733.51 L273.6 732.73 L274.1 732.19 L274.6 731.88 L275.1 731.8 L275.6 731.97 L276.1 732.38 L276.6 733.02 L277.1 733.89 L277.6 734.99 L278.1 736.31 L278.6 737.84 L279.1 739.57 L279.6 741.5 L280.1 743.61 L280.6 745.9 L281.1 748.34 L281.6 750.93 L282.1 753.65 L282.6 756.5 L283.1 759.44 L283.6 762.48 L284.1 765.59 L284.6 768.76 L285.1 771.98 L285.6 775.23 L286.1 778.49 L286.6 781.77 L287.1 785.03 L287.6 788.28 L288.1 791.49 L288.6 794.67 L289.1 797.79 L289.6 800.85 L290.1 803.84 L290.6 806.76 L291.1 809.59 L291.6 812.33 L292.1 814.98 L292.6 817.53 L293.1 819.98 L293.6 822.32 L294.1 824.56 L294.6 826.69 L295.1 828.72 L295.6 830.64 L296.1 832.46 L296.6 834.17 L297.1 835.78 L297.6 837.29 L298.1 838.7 L298.6 840.02 L299.1 841.25 L299.6 842.39 L300.1 843.45 L300.6 844.43 L301.1 845.33 L301.6 846.16 L302.1 846.92 L302.6 847.62 L303.1 848.26 L303.6 848.84 L304.1 849.37 L304.6 849.85 L305.1 850.29 L305.6 850.68 L306.1 851.04 L306.6 851.36 L307.1 851.64 L307.6 851.9 L308.1 852.13 L308.6 852.33 L309.1 852.51 L309.6 852.68 L310.1 852.82 L310.6 852.95 L311.1 853.06 L311.6 853.16 L312.1 853.24 L312.6 853.32 L313.1 853.39 L313.6 853.44 L314.1 853.49 L314.6 853.54 L315.1 853.58 L315.6 853.61 L316.1 853.64 L316.6 853.66 L317.1 853.68 L317.6 853.7 L318.1 853.72 L318.6 853.73 L319.1 853.74 L319.6 853.75 L320.1 853.76 L320.6 853.76 L321.1 853.77 L321.6 853.78 L322.1 853.78 L322.6 853.78 L323.1 853.79 L323.6 853.79 L324.1 853.79 L324.6 853.79 L325.1 853.79 L325.6 853.79 L326.1 853.8 L326.6 853.8 L327.1 853.8 L327.6 853.8 L328.1 853.8 L328.6 853.8 L329.1 853.8 L329.6 853.8 L330.1 853.8 L330.6 853.8 L331.1 853.8 L331.6 853.8 L332.1 853.8 L332.6 853.8 L333.1 853.8 L333.6 853.8 L334.1 853.8 L334.6 853.8 L335.1 853.8 L335.6 853.8 L336.1 853.8 L336.6 853.8 L337.1 853.8 L337.6 853.8 L338.1 853.8 L338.6 853.8 L339.1 853.8 L339.6 853.8 L340.1 853.8 L340.6 853.8 L341.1 853.8 L341.6 853.8 L342.1 853.8 L342.6 853.8 L343.1 853.8 L343.6 853.8 L344.1 853.8 L344.6 853.8 L345.1 853.8 L345.6 853.8 L346.1 853.8 L346.6 853.8 L347.1 853.8 L347.6 853.8 L348.1 853.8 L348.6 853.8 L349.1 853.8 L349.6 853.8 L350.1 853.8 L350.6 853.8 L351.1 853.8 L351.6 853.8 L352.1 853.8 L352.6 853.8 L353.1 853.8 L353.6 853.8 L354.1 853.8 L354.6 853.8 L355.1 853.8 L355.6 853.8 L356.1 853.8 L356.6 853.8 L357.1 853.8 L357.6 853.8 L358.1 853.8 L358.6 853.8 L359.1 853.8 L359.6 853.8 L360.1 853.8 L360.6 853.8 L361.1 853.79 L361.6 853.79 L362.1 853.79 L362.6 853.79 L363.1 853.79 L363.6 853.79 L364.1 853.78 L364.6 853.78 L365.1 853.78 L365.6 853.77 L366.1 853.76 L366.6 853.76 L367.1 853.75 L367.6 853.74 L368.1 853.73 L368.6 853.71 L369.1 853.7 L369.6 853.68 L370.1 853.65 L370.6 853.63 L371.1 853.59 L371.6 853.56 L372.1 853.51 L372.6 853.46 L373.1 853.4 L373.6 853.34 L374.1 853.26 L374.6 853.17 L375.1 853.06 L375.6 852.95 L376.1 852.81 L376.6 852.65 L377.1 852.48 L377.6 852.27 L378.1 852.05 L378.6 851.79 L379.1 851.49 L379.6 851.16 L380.1 850.79 L380.6 850.37 L381.1 849.9 L381.6 849.37 L382.1 848.79 L382.6 848.14 L383.1 847.41 L383.6 846.61 L384.1 845.72 L384.6 844.74 L385.1 843.66 L385.6 842.47 L386.1 841.17 L386.6 839.75 L387.1 838.2 L387.6 836.51 L388.1 834.68 L388.6 832.69 L389.1 830.54 L389.6 828.22 L390.1 825.73 L390.6 823.05 L391.1 820.19 L391.6 817.13 L392.1 813.87 L392.6 810.41 L393.1 806.73 L393.6 802.85 L394.1 798.75 L394.6 794.44 L395.1 789.92 L395.6 785.19 L396.1 780.25 L396.6 775.11 L397.1 769.78 L397.6 764.26 L398.1 758.56 L398.6 752.7 L399.1 746.69 L399.6 740.54 L400.1 734.27 L400.6 727.91 L401.1 721.47 L401.6 714.96 L402.1 708.43 L402.6 701.88 L403.1 695.35 L403.6 688.86 L404.1 682.44 L404.6 676.12 L405.1 669.92 L405.6 663.89 L406.1 658.04 L406.6 652.4 L407.1 647 L407.6 641.88 L408.1 637.06 L408.6 632.55 L409.1 628.4 L409.6 624.62 L410.1 621.23 L410.6 618.25 L411.1 615.7 L411.6 613.59 L412.1 611.94 L412.6 610.75 L413.1 610.04 L413.6 609.8 L414.1 610.04 L414.6 610.75 L415.1 611.94 L415.6 613.59 L416.1 615.7 L416.6 618.25 L417.1 621.23 L417.6 624.62 L418.1 628.4 L418.6 632.55 L419.1 637.06 L419.6 641.88 L420.1 647 L420.6 652.4 L421.1 658.04 L421.6 663.89 L422.1 669.92 L422.6 676.12 L423.1 682.44 L423.6 688.86 L424.1 695.35 L424.6 701.88 L425.1 708.43 L425.6 714.96 L426.1 721.47 L426.6 727.91 L427.1 734.27 L427.6 740.54 L428.1 746.69 L428.6 752.7 L429.1 758.56 L429.6 764.26 L430.1 769.78 L430.6 775.11 L431.1 780.25 L431.6 785.19 L432.1 789.92 L432.6 794.44 L433.1 798.75 L433.6 802.85 L434.1 806.73 L434.6 810.41 L435.1 813.87 L435.6 817.13 L436.1 820.19 L436.6 823.05 L437.1 825.73 L437.6 828.22 L438.1 830.54 L438.6 832.69 L439.1 834.68 L439.6 836.51 L440.1 838.2 L440.6 839.75 L441.1 841.17 L441.6 842.47 L442.1 843.66 L442.6 844.74 L443.1 845.72 L443.6 846.61 L444.1 847.41 L444.6 848.14 L445.1 848.79 L445.6 849.37 L446.1 849.9 L446.6 850.37 L447.1 850.79 L447.6 851.16 L448.1 851.49 L448.6 851.79 L449.1 852.05 L449.6 852.27 L450.1 852.48 L450.6 852.65 L451.1 852.81 L451.6 852.95 L452.1 853.06 L452.6 853.17 L453.1 853.26 L453.6 853.34 L454.1 853.4 L454.6 853.46 L455.1 853.51 L455.6 853.56 L456.1 853.59 L456.6 853.63 L457.1 853.65 L457.6 853.68 L458.1 853.7 L458.6 853.71 L459.1 853.73 L459.6 853.74 L460.1 853.75 L460.6 853.76 L461.1 853.76 L461.6 853.77 L462.1 853.78 L462.6 853.78 L463.1 853.78 L463.6 853.79 L464.1 853.79 L464.6 853.79 L465.1 853.79 L465.6 853.79 L466.1 853.79 L466.6 853.8 L467.1 853.8 L467.6 853.8 L468.1 853.8 L468.6 853.8" stroke="#15541a" stroke-width="2.2" fill="none" stroke-linejoin="round"/>
<rect x="81.6" y="601" width="387.4" height="262" fill="none" stroke="#000" stroke-width="2.5"/>
<path d="M92.65 863 v-3.2 M103.7 863 v-3.2 M114.75 863 v-3.2 M125.8 863 v-3.2 M136.85 863 v-4.6 M147.9 863 v-3.2 M158.95 863 v-3.2 M170 863 v-3.2 M181.05 863 v-3.2 M192.1 863 v-4.6 M203.15 863 v-3.2 M214.2 863 v-3.2 M225.25 863 v-3.2 M236.3 863 v-3.2 M247.35 863 v-4.6 M258.4 863 v-3.2 M269.45 863 v-3.2 M280.5 863 v-3.2 M291.55 863 v-3.2 M302.6 863 v-4.6 M313.65 863 v-3.2 M324.7 863 v-3.2 M335.75 863 v-3.2 M346.8 863 v-3.2 M357.85 863 v-4.6 M368.9 863 v-3.2 M379.95 863 v-3.2 M391 863 v-3.2 M402.05 863 v-3.2 M413.1 863 v-4.6 M424.15 863 v-3.2 M435.2 863 v-3.2 M446.25 863 v-3.2" stroke="#000" stroke-width="1.5" fill="none"/>
<path d="M81.6 853.8 h3.2 M81.6 841.6 h3.2 M81.6 829.4 h3.2 M81.6 817.2 h3.2 M81.6 805 h3.2 M81.6 792.8 h3.2 M81.6 780.6 h3.2 M81.6 768.4 h3.2 M81.6 756.2 h3.2 M81.6 744 h3.2 M81.6 731.8 h3.2 M81.6 719.6 h3.2 M81.6 707.4 h3.2 M81.6 695.2 h3.2 M81.6 683 h3.2 M81.6 670.8 h3.2 M81.6 658.6 h3.2 M81.6 646.4 h3.2 M81.6 634.2 h3.2 M81.6 622 h3.2 M81.6 609.8 h3.2 M81.6 853.8 h4.6 M81.6 805 h4.6 M81.6 756.2 h4.6 M81.6 707.4 h4.6 M81.6 658.6 h4.6 M81.6 609.8 h4.6" stroke="#000" stroke-width="1.5" fill="none"/>
<text x="78.3" y="618.23" font-size="23" text-anchor="end" fill="#000">1.0</text>
<text x="78.3" y="667.03" font-size="23" text-anchor="end" fill="#000">0.8</text>
<text x="78.3" y="715.83" font-size="23" text-anchor="end" fill="#000">0.6</text>
<text x="78.3" y="764.63" font-size="23" text-anchor="end" fill="#000">0.4</text>
<text x="78.3" y="813.43" font-size="23" text-anchor="end" fill="#000">0.2</text>
<text x="78.3" y="862.23" font-size="23" text-anchor="end" fill="#000">0.0</text>
<text x="86.2" y="884.53" font-size="23" text-anchor="middle" fill="#000">0</text>
<text x="190.6" y="884.53" font-size="23" text-anchor="middle" fill="#000">200</text>
<text x="301.1" y="884.53" font-size="23" text-anchor="middle" fill="#000">400</text>
<text x="411.6" y="884.53" font-size="23" text-anchor="middle" fill="#000">600</text>
<text x="86.2" y="626.46" font-size="25.3" text-anchor="start" fill="#000">(c)</text>
<text x="134.9" y="692.65" font-size="22.5" text-anchor="middle" fill="#000">0</text>
<text x="197.2" y="692.65" font-size="22.5" text-anchor="middle" fill="#000">0</text>
<text x="275.4" y="692.65" font-size="22.5" text-anchor="middle" fill="#000">1</text>
<text x="333.9" y="692.65" font-size="22.5" text-anchor="middle" fill="#000">0</text>
<text x="390.7" y="692.65" font-size="22.5" text-anchor="middle" fill="#000">1</text>
<text x="449.5" y="692.65" font-size="22.5" text-anchor="middle" fill="#000">0</text>
<text x="134.9" y="723.45" font-size="22.5" text-anchor="middle" fill="#000">1</text>
<text x="197.2" y="723.45" font-size="22.5" text-anchor="middle" fill="#000">0</text>
<text x="275.4" y="723.45" font-size="22.5" text-anchor="middle" fill="#000">0</text>
<text x="333.9" y="723.45" font-size="22.5" text-anchor="middle" fill="#000">0</text>
<text x="390.7" y="723.45" font-size="22.5" text-anchor="middle" fill="#000">1</text>
<text x="449.5" y="723.45" font-size="22.5" text-anchor="middle" fill="#000">0</text>
<text x="269.4" y="916" font-size="25.4" text-anchor="middle" fill="#000">Time (fs)</text>
<text transform="translate(19 286.8) rotate(-90)" font-size="25.1" text-anchor="middle">Transmittance at 800 nm</text>
<text transform="translate(19.1 730.4) rotate(-90)" font-size="25.1" text-anchor="middle">Normalized Inputs</text>
</svg>
</body></html>
